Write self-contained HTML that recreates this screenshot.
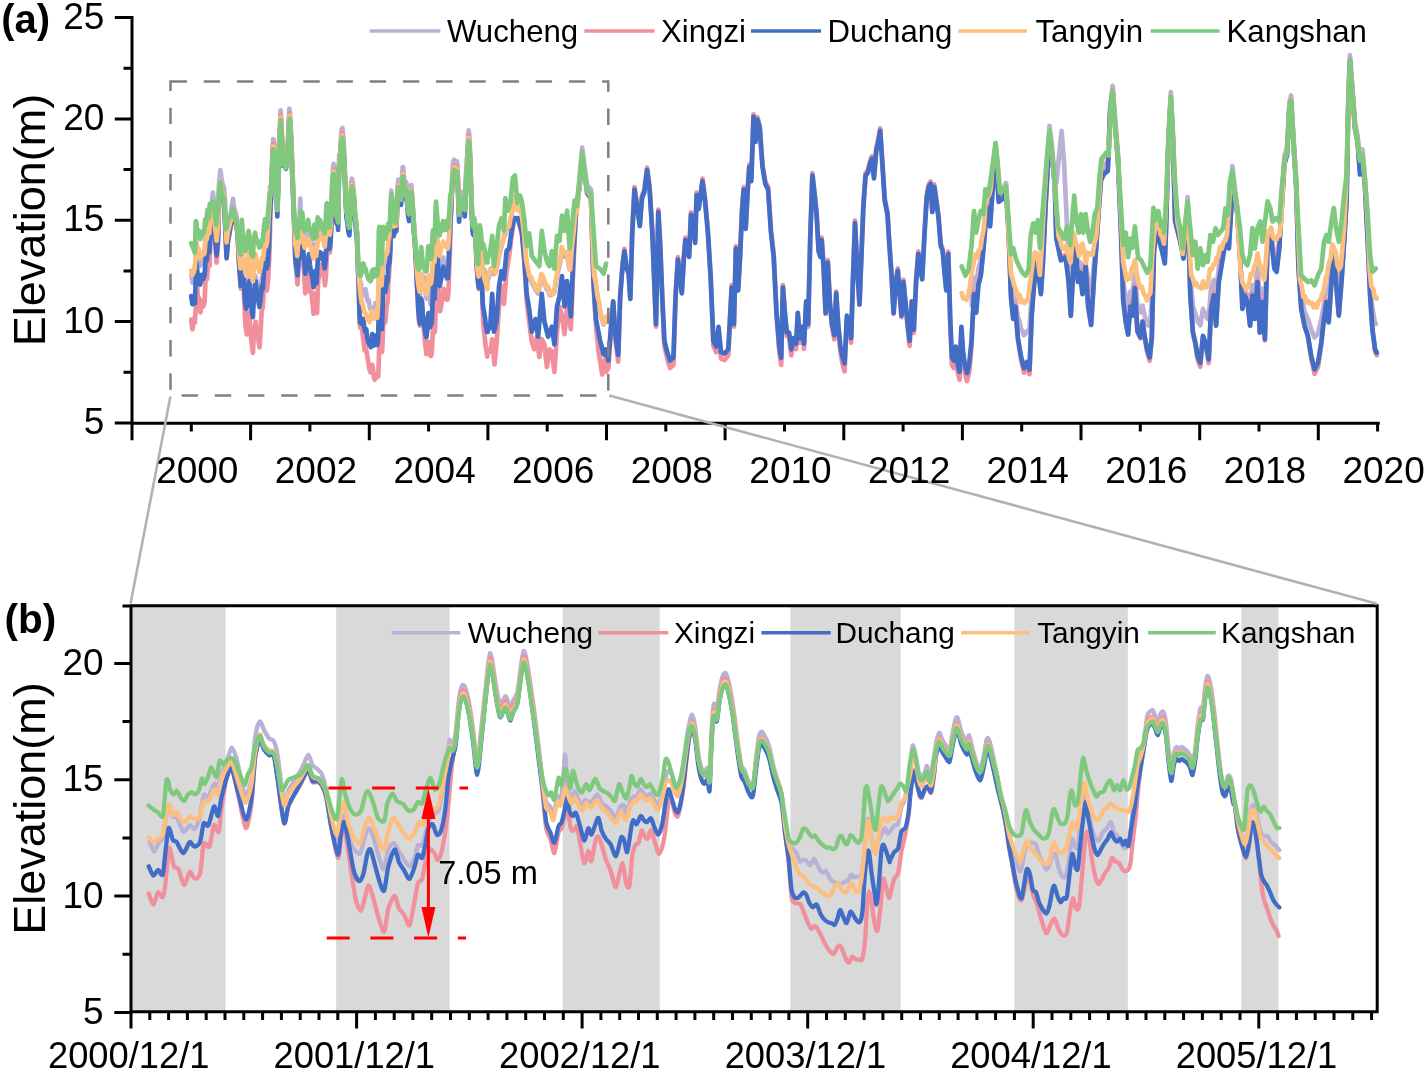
<!DOCTYPE html>
<html><head><meta charset="utf-8"><title>Elevation chart</title>
<style>html,body{margin:0;padding:0;background:#fff}svg{display:block}</style>
</head><body>
<svg width="1425" height="1071" viewBox="0 0 1425 1071">
<rect width="1425" height="1071" fill="#fff"/>
<rect x="131.5" y="606" width="94.1" height="405.8" fill="#d9d9d9"/>
<rect x="336.2" y="606" width="113.4" height="405.8" fill="#d9d9d9"/>
<rect x="562.6" y="606" width="97.2" height="405.8" fill="#d9d9d9"/>
<rect x="790.4" y="606" width="110.2" height="405.8" fill="#d9d9d9"/>
<rect x="1014.4" y="606" width="113.4" height="405.8" fill="#d9d9d9"/>
<rect x="1241.3" y="606" width="37.2" height="405.8" fill="#d9d9d9"/>
<path d="M191.4 274.9 L192.6 283.0 L193.6 276.5 L194.8 271.6 L195.6 257.0 L196.5 243.9 L197.5 252.9 L198.5 252.1 L200.2 265.9 L201.9 260.2 L203.1 263.5 L204.4 255.3 L205.6 234.2 L206.8 235.8 L208.3 224.4 L209.3 226.1 L210.2 216.3 L211.7 203.3 L212.9 192.7 L214.1 201.7 L215.1 216.3 L216.6 234.2 L218.1 219.6 L219.0 183.8 L220.3 170.0 L221.5 178.1 L222.7 184.6 L223.9 187.0 L224.9 198.4 L226.6 239.1 L227.8 229.3 L230.8 213.5 L231.9 206.2 L233.0 198.8 L234.1 208.0 L235.5 211.7 L236.6 216.2 L237.7 230.0 L239.1 259.3 L240.7 277.7 L241.6 259.3 L242.4 252.0 L243.5 268.5 L244.6 279.5 L246.5 285.0 L247.6 272.2 L248.7 263.0 L249.8 268.5 L252.0 294.2 L252.9 297.8 L254.0 281.3 L255.4 275.8 L256.7 283.2 L258.1 290.5 L259.5 296.0 L260.9 288.7 L261.7 277.7 L262.8 277.7 L263.9 264.8 L265.0 253.8 L266.1 250.2 L267.2 246.5 L268.3 226.3 L269.4 204.3 L270.0 186.3 L270.8 189.5 L271.6 179.0 L272.4 151.5 L273.2 139.0 L274.0 139.9 L275.1 153.3 L276.2 176.9 L277.3 206.3 L278.3 174.8 L279.1 149.7 L280.0 124.6 L280.6 110.3 L281.3 119.3 L282.1 137.2 L283.2 155.1 L284.0 151.5 L284.8 147.9 L285.9 157.7 L286.7 151.5 L287.8 144.3 L288.6 124.6 L289.4 108.5 L290.2 115.7 L291.3 139.0 L292.3 164.3 L293.4 193.7 L294.5 224.5 L295.3 239.7 L296.4 244.1 L297.2 251.3 L298.3 235.2 L299.1 237.9 L299.7 221.8 L300.3 198.5 L300.8 221.8 L301.2 231.6 L302.0 237.0 L302.9 230.7 L303.7 237.0 L304.7 243.2 L305.5 237.9 L306.9 240.6 L308.0 236.1 L308.8 233.4 L309.9 240.6 L310.9 243.2 L312.3 247.7 L313.6 254.0 L314.7 244.1 L315.8 243.2 L316.3 251.3 L317.4 238.8 L318.2 235.2 L319.0 235.2 L320.1 228.9 L320.9 232.5 L321.7 234.3 L322.8 232.5 L323.6 237.9 L324.7 242.3 L325.7 231.6 L326.5 220.0 L327.3 212.8 L328.2 214.9 L329.0 223.9 L329.8 229.3 L330.6 218.5 L331.4 202.4 L332.2 182.7 L333.0 168.4 L333.6 163.9 L334.4 174.5 L335.2 197.6 L336.0 210.2 L336.8 214.4 L337.6 210.2 L338.1 220.7 L338.7 176.6 L339.2 154.8 L340.0 158.4 L340.8 140.5 L341.6 129.8 L342.4 128.0 L343.3 136.9 L344.1 151.2 L344.9 170.3 L345.7 191.3 L346.5 208.1 L347.3 212.3 L348.4 222.8 L349.4 227.0 L350.3 203.9 L351.1 182.9 L351.9 178.7 L352.7 182.9 L353.8 191.3 L354.8 208.1 L355.9 220.7 L357.0 232.8 L357.9 259.3 L358.9 277.2 L359.8 280.4 L360.8 283.7 L361.8 291.8 L362.8 290.2 L363.8 291.8 L364.5 295.1 L365.5 289.4 L366.2 293.4 L367.2 300.0 L367.9 301.6 L368.7 300.0 L369.6 306.5 L370.6 309.7 L371.6 310.5 L372.6 311.3 L373.6 309.7 L374.5 308.1 L375.3 303.2 L376.0 305.6 L377.0 304.8 L378.0 303.2 L378.7 283.7 L379.4 257.7 L379.9 256.0 L380.6 272.3 L381.6 283.7 L382.4 273.9 L383.3 267.4 L384.1 262.5 L384.8 267.4 L385.4 265.9 L386.5 260.5 L387.6 258.7 L388.4 244.4 L389.2 239.1 L390.0 226.5 L390.8 210.4 L391.3 190.7 L392.2 199.7 L393.0 214.0 L393.8 217.6 L394.6 214.0 L395.1 208.6 L395.9 219.4 L396.7 205.1 L397.5 188.1 L398.3 179.7 L399.2 186.0 L400.0 190.2 L401.0 194.4 L401.8 179.7 L402.7 167.1 L403.2 167.1 L404.0 177.6 L404.8 183.9 L405.6 188.1 L406.2 181.8 L407.0 192.3 L408.0 204.9 L409.1 211.2 L409.9 200.7 L410.7 186.0 L411.3 185.0 L412.1 194.4 L412.9 207.0 L413.7 219.6 L414.3 229.8 L415.1 240.6 L415.9 253.1 L416.7 267.4 L417.5 279.0 L418.6 293.3 L419.6 300.5 L420.4 288.0 L421.2 277.2 L422.3 275.4 L423.7 277.2 L424.5 286.2 L425.6 293.3 L426.4 298.7 L427.2 295.1 L428.0 286.2 L428.8 286.2 L429.6 296.9 L430.4 304.1 L431.5 305.0 L432.3 291.6 L433.1 271.9 L433.9 279.0 L434.6 279.0 L435.2 261.1 L435.9 239.7 L436.6 230.7 L437.3 245.0 L438.2 261.1 L439.0 270.1 L440.1 273.7 L441.2 266.5 L442.2 262.9 L443.3 257.6 L444.1 266.5 L445.2 270.1 L446.6 279.0 L447.6 279.0 L448.4 266.5 L449.2 239.7 L450.1 218.2 L450.9 202.1 L451.9 187.8 L452.8 164.8 L453.5 161.3 L454.2 159.8 L454.9 164.8 L455.6 170.3 L456.3 163.0 L457.0 161.3 L457.7 170.3 L458.4 193.8 L459.1 211.9 L459.8 197.4 L460.5 192.0 L461.2 193.8 L461.9 192.0 L462.6 193.8 L463.3 195.6 L464.0 199.2 L464.7 206.5 L465.4 193.8 L466.1 172.1 L466.8 158.3 L467.5 156.7 L467.9 141.3 L468.6 130.4 L469.1 133.5 L469.8 145.9 L470.5 164.8 L471.2 186.6 L471.9 208.3 L472.6 222.8 L473.3 226.4 L474.0 217.3 L474.7 219.2 L475.4 233.2 L475.8 240.6 L476.6 255.8 L477.7 269.6 L478.5 275.2 L479.4 262.7 L480.0 246.1 L480.8 243.4 L481.6 253.0 L482.5 265.5 L483.3 269.6 L484.3 269.6 L485.4 275.2 L486.4 277.9 L487.5 282.1 L486.9 282.2 L490.2 273.3 L492.2 269.7 L493.9 274.1 L496.5 270.2 L499.0 255.9 L501.5 246.1 L504.0 236.9 L505.3 234.2 L506.6 230.2 L507.8 228.1 L509.1 227.8 L510.3 221.0 L511.6 215.1 L512.9 208.2 L514.1 198.7 L514.9 201.5 L517.4 209.5 L517.9 210.1 L519.9 208.4 L521.7 214.9 L524.2 237.4 L526.7 265.1 L529.2 277.8 L531.8 282.5 L535.5 289.6 L538.1 293.5 L539.3 287.7 L541.8 276.3 L544.4 283.6 L546.9 289.5 L548.1 290.1 L549.4 295.1 L551.9 294.6 L554.4 292.4 L557.0 275.7 L559.5 265.6 L562.0 249.8 L564.5 256.6 L567.1 255.5 L569.6 269.4 L570.8 265.1 L572.1 248.5 L573.4 235.6 L574.6 222.3 L575.9 206.2 L577.1 202.0 L579.7 175.4 L582.2 147.7 L584.7 167.9 L587.2 185.5 L591.0 189.4 L593.5 264.7 L596.0 287.1 L599.8 310.7 L603.6 324.6 L606.1 318.8" fill="none" stroke="#bbb1d6" stroke-width="4.7" stroke-linejoin="round" stroke-linecap="round"/>
<path d="M971.6 305.5 L974.0 277.7 L976.2 284.3 L978.4 268.5 L980.8 260.7 L983.3 241.2 L985.4 215.7 L987.6 198.9 L990.1 209.0 L993.1 172.8 L995.6 142.8 L997.8 176.7 L998.7 189.7 L999.9 189.9 L1003.0 188.6 L1006.1 183.0 L1008.6 227.5 L1011.0 285.5 L1013.2 300.0 L1015.3 297.5 L1016.3 304.5 L1017.8 316.9 L1019.3 320.8 L1020.9 328.3 L1022.4 331.6 L1024.0 335.2 L1025.5 333.5 L1027.0 331.0 L1028.6 330.9 L1029.5 329.0 L1030.7 308.6 L1031.7 293.3 L1033.2 277.5 L1033.8 272.3 L1035.7 261.1 L1036.3 258.1 L1037.8 265.1 L1038.8 270.6 L1040.0 280.1 L1040.9 277.2 L1042.4 251.6 L1043.1 240.7 L1044.9 205.7 L1045.5 194.2 L1047.1 168.7 L1048.6 143.4 L1049.5 125.9 L1051.7 144.4 L1054.8 178.3 L1056.3 183.3 L1059.4 152.4 L1061.6 130.9 L1064.0 161.7 L1066.5 214.1 L1068.6 269.0 L1070.2 283.8 L1070.8 287.6 L1072.7 261.3 L1073.3 253.4 L1074.2 247.3 L1075.7 243.8 L1076.3 249.8 L1077.9 265.8 L1078.8 266.5 L1080.0 261.9 L1081.0 264.0 L1082.5 269.1 L1083.1 267.6 L1085.6 263.9 L1088.1 279.8 L1090.2 286.8 L1091.1 289.9 L1092.4 280.1 L1094.2 260.1 L1094.8 254.5 L1096.4 239.4 L1097.3 227.9 L1098.5 210.3 L1099.5 196.4 L1101.0 172.8 L1101.6 170.4 L1104.1 165.2 L1106.5 162.9 L1107.8 162.8 L1108.7 150.5 L1110.2 115.3 L1110.9 101.2 L1112.7 85.8 L1114.9 116.6 L1118.0 153.6 L1121.0 224.6 L1123.2 280.7 L1125.7 298.3 L1128.1 306.6 L1130.3 291.7 L1132.4 291.5 L1134.9 274.4 L1137.4 303.9 L1138.0 306.1 L1140.4 312.4 L1141.1 310.0 L1142.6 305.7 L1144.1 313.6 L1144.8 316.2 L1147.2 324.7 L1149.7 325.7 L1150.3 322.6 L1151.8 300.4 L1153.4 258.9 L1154.0 243.2 L1155.9 230.8 L1156.5 227.0 L1158.3 229.8 L1158.9 230.2 L1161.1 241.4 L1162.0 243.8 L1163.4 249.1 L1164.2 250.7 L1164.8 246.6 L1166.1 216.6 L1168.4 135.8 L1170.8 92.1 L1172.8 129.1 L1175.1 202.7 L1177.5 226.0 L1180.2 236.5 L1182.9 249.7 L1183.5 252.6 L1185.2 234.2 L1186.2 222.1 L1187.6 197.0 L1190.3 277.6 L1192.9 305.6 L1195.3 313.3 L1197.6 321.1 L1200.3 325.2 L1203.0 308.8 L1205.4 315.0 L1207.7 318.9 L1208.7 318.6 L1210.4 296.2 L1211.1 289.1 L1213.1 282.0 L1213.8 280.0 L1215.5 289.7 L1216.1 292.8 L1217.8 277.6 L1218.8 268.0 L1220.5 259.5 L1222.2 254.6 L1223.2 249.6 L1225.5 240.7 L1227.9 234.4 L1228.9 228.3 L1229.9 211.4 L1231.3 193.8 L1232.3 166.1 L1234.6 186.3 L1237.3 206.9 L1240.0 258.2 L1242.4 295.4 L1244.7 291.1 L1247.4 294.8 L1250.1 301.6 L1252.4 285.2 L1254.8 292.3 L1257.5 267.9 L1259.8 298.7 L1260.2 297.1 L1262.5 288.7 L1264.9 306.0 L1267.6 237.9 L1270.3 233.1 L1270.9 231.5 L1272.6 243.8 L1274.3 253.7 L1276.0 255.4 L1276.6 255.4 L1279.3 242.0 L1281.7 209.5 L1284.4 156.0 L1287.1 145.9 L1289.4 102.2 L1291.1 95.5 L1293.4 135.8 L1296.1 176.2 L1298.5 254.7 L1301.2 296.5 L1304.5 311.2 L1307.9 318.8 L1311.3 329.6 L1314.6 337.5 L1318.0 333.3 L1321.3 319.5 L1324.0 304.2 L1326.4 289.1 L1328.7 293.1 L1331.4 266.9 L1333.8 251.4 L1336.1 270.1 L1336.5 273.5 L1338.8 292.1 L1341.5 270.3 L1344.2 233.8 L1346.6 186.4 L1348.2 102.2 L1349.9 55.2 L1352.3 85.4 L1355.0 122.4 L1357.6 135.8 L1360.0 163.7 L1362.4 149.3 L1365.0 178.2 L1367.7 232.9 L1370.1 284.9 L1372.4 308.4 L1375.1 323.3 L1375.8 324.0" fill="none" stroke="#bbb1d6" stroke-width="4.7" stroke-linejoin="round" stroke-linecap="round"/>
<path d="M191.2 319.6 L192.4 329.3 L193.6 318.8 L194.8 322.8 L195.6 310.6 L196.3 283.0 L196.8 281.4 L197.8 296.0 L199.0 298.4 L200.4 312.3 L201.9 300.9 L203.1 306.6 L204.6 302.5 L205.6 276.5 L207.1 278.9 L208.3 260.2 L209.5 265.9 L210.2 245.6 L211.7 217.1 L212.9 210.6 L214.6 234.2 L216.6 262.7 L218.1 242.3 L219.0 201.7 L220.3 183.8 L221.2 191.9 L222.7 197.6 L223.9 198.4 L224.9 219.6 L226.6 258.6 L227.8 243.1 L230.8 225.4 L231.9 218.1 L233.0 212.6 L234.1 222.7 L235.5 222.7 L236.6 226.3 L237.7 236.4 L239.1 263.9 L240.7 288.7 L241.6 270.3 L242.4 263.0 L243.2 277.7 L244.0 296.0 L245.4 325.4 L246.8 334.5 L247.9 321.7 L248.7 312.5 L249.8 321.7 L251.5 341.9 L252.9 352.9 L254.0 332.7 L255.6 321.7 L256.7 332.7 L258.1 338.2 L259.5 347.4 L260.9 325.4 L261.7 310.7 L262.8 307.0 L263.9 288.7 L265.0 281.3 L266.1 285.0 L266.9 290.5 L268.0 281.3 L269.2 259.3 L270.0 231.8 L270.6 208.0 L271.6 184.0 L272.4 156.3 L273.2 143.7 L274.0 144.6 L275.1 158.3 L276.2 182.0 L277.3 209.8 L278.3 180.1 L279.1 154.5 L280.0 129.4 L280.6 115.1 L281.3 124.1 L282.1 142.0 L283.2 160.2 L284.0 156.3 L284.8 152.7 L285.9 163.2 L286.7 156.3 L287.8 149.1 L288.6 129.4 L289.4 113.3 L290.2 120.5 L291.3 143.7 L292.3 170.1 L293.4 197.9 L294.5 236.1 L295.3 262.9 L296.4 271.9 L297.5 284.4 L298.5 266.5 L299.4 262.9 L300.2 252.2 L300.7 243.2 L301.8 262.9 L302.6 264.7 L303.4 261.1 L304.2 275.4 L305.3 293.3 L306.4 282.6 L307.2 291.6 L308.2 273.7 L309.0 270.1 L309.9 277.2 L310.9 289.8 L312.3 300.5 L313.6 313.9 L315.2 293.3 L316.3 311.2 L317.1 313.0 L317.9 286.2 L318.7 277.2 L319.5 275.4 L320.4 264.7 L321.2 270.1 L322.0 271.9 L322.8 264.7 L323.8 275.4 L324.9 285.3 L326.0 275.4 L326.8 257.6 L327.3 239.7 L328.2 238.2 L329.0 248.9 L329.8 252.5 L330.6 241.8 L331.4 223.9 L332.2 198.8 L333.0 179.2 L333.6 169.9 L334.4 179.8 L335.2 201.6 L336.0 213.2 L336.8 216.7 L337.6 213.2 L338.1 222.1 L338.7 181.8 L339.2 160.0 L340.0 163.9 L340.8 145.3 L341.6 134.6 L342.4 132.8 L343.3 141.7 L344.1 156.0 L344.9 175.8 L345.7 195.6 L346.5 211.4 L347.3 214.9 L348.4 223.9 L349.4 227.5 L350.3 207.5 L351.1 187.7 L351.9 183.8 L352.7 187.7 L353.8 195.6 L354.8 211.4 L355.9 222.1 L357.0 232.8 L357.9 266.6 L358.9 291.8 L359.6 322.7 L360.3 327.6 L361.3 328.4 L362.1 329.2 L362.8 335.7 L363.8 343.9 L364.7 350.4 L365.7 347.9 L366.7 352.0 L367.7 358.5 L368.7 365.0 L369.6 369.9 L370.6 372.3 L371.6 366.6 L372.3 365.0 L373.1 369.9 L374.0 378.0 L374.8 379.7 L375.5 374.8 L376.5 377.2 L377.5 377.2 L378.2 376.4 L378.9 358.5 L379.4 329.2 L379.9 317.8 L380.6 329.2 L381.4 345.5 L382.1 352.0 L382.9 334.1 L383.6 308.1 L384.1 309.7 L385.1 322.7 L385.4 321.4 L386.5 307.1 L387.6 301.7 L388.4 283.8 L389.5 267.7 L390.3 251.6 L390.8 232.8 L391.6 212.2 L392.4 223.8 L393.2 234.6 L393.8 236.4 L394.6 229.2 L395.4 227.4 L396.2 231.9 L397.0 214.9 L397.5 192.6 L398.3 184.7 L399.2 190.6 L400.0 194.6 L401.0 198.6 L401.8 184.7 L402.7 172.8 L403.2 172.8 L404.0 182.7 L404.8 188.7 L405.6 192.6 L406.2 186.7 L407.0 196.6 L408.0 208.5 L409.1 214.0 L409.9 204.5 L410.7 190.6 L411.3 189.6 L412.1 198.6 L412.9 210.4 L413.7 221.2 L414.3 237.0 L415.1 247.7 L415.9 262.0 L416.7 280.8 L417.5 295.1 L418.3 311.2 L419.1 322.0 L419.9 325.6 L420.7 314.8 L421.4 304.1 L422.1 307.7 L422.9 320.2 L423.9 329.1 L425.0 341.7 L426.4 354.2 L427.4 347.0 L428.5 341.7 L429.6 350.6 L430.7 356.0 L431.7 354.2 L432.6 336.3 L433.4 323.8 L434.2 332.7 L435.0 330.9 L435.8 302.3 L436.6 271.9 L437.4 266.5 L438.2 286.2 L439.0 302.3 L440.0 311.2 L440.9 307.7 L441.7 302.3 L442.8 296.9 L443.6 288.9 L444.4 291.6 L445.5 293.3 L446.6 299.6 L447.6 299.6 L448.4 293.3 L449.0 275.4 L449.8 254.0 L450.4 230.7 L451.1 211.0 L451.9 194.0 L452.8 170.6 L453.5 167.2 L454.2 165.5 L454.9 170.6 L455.6 175.8 L456.3 168.9 L457.0 167.2 L457.7 175.8 L458.4 198.0 L459.1 214.6 L459.8 201.4 L460.5 196.3 L461.2 198.0 L461.9 196.3 L462.6 198.0 L463.3 199.7 L464.0 203.1 L464.7 210.0 L465.4 198.0 L466.1 177.5 L466.8 163.8 L467.5 162.1 L467.9 146.0 L468.6 135.2 L469.1 138.3 L469.8 150.7 L470.5 170.6 L471.2 191.2 L471.9 211.5 L472.6 223.9 L473.3 227.0 L474.0 219.3 L474.7 220.8 L475.4 233.2 L475.8 244.1 L476.6 264.8 L477.7 279.3 L478.7 289.0 L479.6 276.5 L480.2 260.0 L480.8 261.3 L481.4 272.4 L482.1 289.0 L482.7 309.7 L483.3 323.6 L484.1 331.9 L485.0 340.1 L485.8 347.1 L486.6 351.2 L487.3 356.7 L486.9 351.8 L490.2 351.8 L492.2 339.2 L494.5 364.4 L496.5 344.3 L499.0 306.5 L501.5 286.3 L504.0 303.9 L506.6 271.2 L509.1 256.0 L511.6 235.9 L514.1 219.5 L517.9 219.5 L521.7 233.4 L524.2 261.1 L526.7 301.4 L529.2 321.6 L531.8 341.7 L534.3 349.3 L536.8 336.7 L539.3 356.9 L541.8 339.2 L544.4 344.3 L546.9 367.0 L549.4 349.3 L551.9 351.8 L554.4 372.0 L557.0 331.7 L559.5 306.5 L562.0 316.5 L564.5 334.2 L567.1 306.5 L570.8 329.1 L573.4 266.1 L575.9 215.7 L579.7 184.2 L582.2 151.4 L584.7 174.1 L587.2 193.0 L591.0 199.3 L593.5 286.3 L596.0 326.6 L598.6 351.8 L602.3 374.5 L605.6 355.4 L606.1 372.0 L608.4 368.1 L611.2 326.7 L613.2 301.2 L615.4 339.4 L618.2 361.7 L620.2 294.8 L622.4 265.6 L624.4 248.8 L626.6 265.6 L628.6 271.2 L630.3 298.0 L632.2 232.0 L634.5 187.1 L637.0 203.9 L639.8 223.6 L642.0 195.5 L644.3 189.9 L647.1 167.5 L649.6 187.1 L652.4 232.0 L656.0 326.7 L658.3 209.5 L660.2 243.2 L662.2 294.8 L664.4 345.8 L667.2 358.5 L670.0 368.1 L673.4 364.9 L675.6 294.8 L677.9 257.2 L679.8 271.2 L681.8 291.6 L684.0 254.4 L685.4 237.6 L687.4 246.0 L689.1 254.4 L691.0 212.3 L693.0 217.9 L695.2 240.4 L696.6 192.7 L698.6 206.7 L700.3 195.5 L702.5 178.7 L705.0 198.3 L707.8 229.2 L710.6 274.0 L713.4 345.8 L716.2 352.2 L718.5 329.9 L721.0 358.5 L724.6 360.1 L728.3 355.4 L730.3 313.9 L731.7 285.2 L733.9 326.7 L735.9 246.0 L738.1 288.4 L740.1 254.4 L742.0 209.5 L743.7 187.1 L745.7 226.4 L747.6 189.9 L749.3 164.7 L751.3 178.7 L753.5 114.3 L755.5 139.5 L757.4 117.1 L759.7 125.5 L762.5 164.7 L765.3 181.5 L768.1 187.1 L770.9 229.2 L773.7 254.4 L776.5 313.9 L779.3 352.2 L781.2 364.9 L782.9 285.2 L784.9 313.9 L786.8 336.2 L789.1 336.2 L791.3 355.4 L793.3 342.6 L796.1 349.0 L797.8 313.9 L799.8 342.6 L801.8 329.9 L804.0 349.0 L806.2 301.2 L808.2 326.7 L810.2 237.6 L812.4 173.1 L814.6 192.7 L816.6 212.3 L818.6 248.8 L820.3 254.4 L821.7 237.6 L823.6 265.6 L825.6 313.9 L827.8 260.0 L829.8 301.2 L832.0 326.7 L834.3 339.4 L836.2 291.6 L838.2 326.7 L840.4 352.2 L842.7 364.9 L844.6 371.3 L846.9 317.1 L848.8 323.5 L851.1 342.6 L853.0 276.8 L855.0 220.7 L857.2 265.6 L859.5 304.4 L861.4 254.4 L863.4 203.9 L865.6 173.1 L867.9 170.3 L869.8 161.9 L871.8 156.3 L874.0 175.9 L876.3 147.9 L878.2 139.5 L880.2 128.3 L882.4 161.9 L884.7 198.3 L887.5 212.3 L889.4 243.2 L891.4 271.2 L893.6 313.9 L895.9 279.6 L897.8 268.4 L899.8 294.8 L901.5 317.1 L903.4 279.6 L905.4 301.2 L907.6 326.7 L909.6 345.8 L911.8 301.2 L913.8 333.0 L916.1 279.6 L918.3 251.6 L920.3 265.6 L922.2 276.8 L924.5 232.0 L926.7 195.5 L928.7 184.3 L930.6 181.5 L932.3 209.5 L934.3 184.3 L936.2 198.3 L938.5 215.1 L940.7 243.2 L942.7 248.8 L944.6 271.2 L946.3 288.4 L948.3 251.6 L950.2 320.3 L951.9 364.9 L953.9 368.1 L955.8 352.2 L957.5 371.3 L959.5 379.7 L961.4 329.9 L963.1 358.5 L965.1 374.1 L967.0 381.1 L969.3 371.3 L971.5 345.8 L974.0 291.7 L976.2 310.6 L978.4 282.5 L980.8 273.2 L983.3 248.6 L985.4 223.9 L987.6 205.4 L990.1 223.9 L993.1 180.8 L995.6 149.9 L998.7 199.3 L1003.0 196.2 L1006.1 190.0 L1008.6 230.1 L1011.0 294.8 L1013.2 317.5 L1015.3 304.0 L1017.8 338.3 L1020.9 359.1 L1024.0 372.7 L1027.0 366.0 L1029.5 374.2 L1031.7 314.1 L1033.8 285.5 L1036.3 260.9 L1038.8 273.2 L1040.9 291.7 L1043.1 257.8 L1045.5 205.4 L1048.6 149.9 L1049.5 131.5 L1051.7 149.9 L1054.8 183.8 L1056.3 236.2 L1060.9 257.8 L1065.6 254.7 L1068.6 279.4 L1070.8 314.1 L1073.3 267.1 L1075.7 242.4 L1077.9 279.4 L1080.0 270.1 L1082.5 291.7 L1085.6 264.0 L1088.1 304.0 L1091.1 324.4 L1094.2 273.2 L1096.4 242.4 L1098.5 211.6 L1101.0 177.7 L1104.1 171.5 L1107.8 168.4 L1110.2 106.8 L1112.7 89.9 L1114.9 120.7 L1118.0 159.2 L1121.0 230.1 L1123.2 297.9 L1125.7 321.0 L1128.1 334.8 L1130.3 304.0 L1132.4 314.1 L1134.9 285.5 L1137.4 331.4 L1140.4 338.3 L1142.6 321.0 L1144.8 338.3 L1147.2 352.1 L1149.7 360.8 L1151.8 338.3 L1154.0 248.6 L1156.5 230.1 L1158.9 236.2 L1162.0 248.6 L1164.8 260.9 L1166.1 225.7 L1168.4 141.7 L1170.8 98.0 L1172.8 135.0 L1175.1 219.0 L1180.2 239.2 L1183.5 256.0 L1186.2 225.7 L1187.6 202.2 L1190.3 293.0 L1192.9 332.8 L1195.3 344.1 L1197.6 359.2 L1200.3 366.8 L1203.0 336.5 L1205.4 344.1 L1208.7 363.0 L1211.1 306.4 L1213.8 293.0 L1216.1 325.2 L1218.8 279.5 L1222.2 259.3 L1225.5 239.2 L1228.9 245.9 L1231.3 205.6 L1232.3 172.0 L1234.6 192.1 L1237.3 212.3 L1240.0 252.6 L1242.4 306.4 L1244.7 293.0 L1247.4 299.7 L1250.1 325.2 L1252.4 293.0 L1254.8 317.7 L1257.5 279.5 L1259.8 332.8 L1262.5 299.7 L1264.9 340.3 L1267.6 239.2 L1270.9 232.5 L1274.3 266.1 L1276.6 269.4 L1279.3 245.9 L1281.7 205.6 L1284.4 161.9 L1287.1 151.8 L1289.4 106.4 L1291.1 99.7 L1293.4 140.0 L1296.1 182.0 L1298.5 266.1 L1301.2 306.4 L1304.5 325.2 L1307.9 336.5 L1311.3 359.2 L1314.6 373.9 L1318.0 366.8 L1321.3 344.1 L1324.0 317.7 L1326.4 299.7 L1328.7 321.4 L1331.4 279.5 L1333.8 252.6 L1336.5 286.2 L1338.8 313.9 L1341.5 279.5 L1344.2 239.2 L1346.6 198.8 L1348.2 108.1 L1349.9 59.3 L1352.3 89.6 L1355.0 126.6 L1357.6 140.0 L1360.0 172.0 L1362.4 155.1 L1365.0 185.4 L1367.7 239.2 L1370.1 293.0 L1372.4 329.0 L1375.1 351.6 L1376.8 355.4" fill="none" stroke="#f18f9c" stroke-width="4.7" stroke-linejoin="round" stroke-linecap="round"/>
<path d="M191.2 296.0 L192.4 304.1 L193.6 299.2 L194.8 303.3 L195.6 283.0 L196.4 262.7 L197.5 273.2 L198.5 274.9 L200.2 284.6 L201.9 274.9 L203.1 278.9 L204.6 274.9 L205.6 258.6 L206.8 260.2 L208.3 243.9 L209.4 252.1 L210.2 235.8 L211.7 217.9 L212.9 210.6 L214.6 232.6 L216.6 255.3 L218.1 237.4 L219.0 201.7 L220.3 185.4 L221.2 193.5 L222.7 199.2 L223.9 200.0 L224.9 219.6 L226.6 257.8 L227.8 242.3 L230.8 224.5 L231.9 217.2 L233.0 211.7 L234.1 221.7 L235.5 221.7 L236.6 225.4 L237.7 235.5 L239.1 263.0 L240.7 285.9 L241.6 266.7 L242.4 257.5 L243.5 274.0 L244.9 299.7 L246.3 308.8 L247.4 303.3 L248.5 285.0 L249.3 281.3 L250.4 294.2 L251.8 310.7 L252.9 317.1 L254.0 296.0 L255.6 281.3 L256.7 292.3 L258.1 299.7 L259.5 307.0 L260.9 296.0 L261.7 285.9 L262.8 288.7 L263.6 277.7 L264.5 263.0 L265.6 259.3 L266.7 268.5 L267.8 264.8 L268.9 246.5 L269.7 219.0 L270.4 206.2 L271.6 190.0 L272.4 161.8 L273.2 149.0 L274.0 149.9 L275.1 163.8 L276.2 188.0 L277.3 216.3 L278.3 186.0 L279.1 159.7 L280.0 134.7 L280.6 120.3 L281.3 129.3 L282.1 147.2 L283.2 165.8 L284.0 161.8 L284.8 157.9 L285.9 168.8 L286.7 161.8 L287.8 154.3 L288.6 134.7 L289.4 118.6 L290.2 125.7 L291.3 149.0 L292.3 175.9 L293.4 204.2 L294.5 232.5 L295.3 257.6 L296.4 266.5 L297.5 275.4 L298.5 261.1 L299.4 257.6 L300.2 246.8 L300.7 236.1 L301.5 248.6 L302.3 252.2 L303.1 249.5 L304.2 261.1 L305.3 273.7 L306.4 262.9 L307.2 268.3 L308.2 259.3 L309.0 254.0 L309.9 264.7 L310.9 271.9 L312.3 277.2 L313.6 287.1 L315.0 271.0 L315.8 273.7 L316.6 283.5 L317.7 261.1 L318.2 255.8 L319.0 259.3 L320.1 252.2 L320.9 255.8 L321.7 257.6 L322.8 254.0 L323.6 261.1 L324.7 268.3 L325.7 259.3 L326.5 241.5 L327.3 228.9 L328.2 236.4 L329.0 245.4 L329.8 248.9 L330.6 240.0 L331.4 222.1 L332.2 197.1 L333.0 179.2 L333.6 175.6 L334.4 185.7 L335.2 208.0 L336.0 220.1 L336.8 224.1 L337.6 220.1 L338.1 229.9 L338.7 187.8 L339.2 165.5 L340.0 169.6 L340.8 150.5 L341.6 139.8 L342.4 138.0 L343.3 146.9 L344.1 161.5 L344.9 181.7 L345.7 201.9 L346.5 218.1 L347.3 222.1 L348.4 231.7 L349.4 235.3 L350.3 214.0 L351.1 193.8 L351.9 189.8 L352.7 193.8 L353.8 201.9 L354.8 218.1 L355.9 229.9 L357.0 240.7 L357.9 265.8 L358.9 290.2 L359.6 316.2 L360.3 322.7 L361.3 323.5 L362.1 321.1 L362.8 318.7 L363.5 321.1 L364.3 327.6 L365.2 331.7 L366.2 329.2 L367.2 337.4 L368.2 342.2 L369.1 344.7 L370.1 345.5 L370.9 347.1 L371.6 342.2 L372.3 334.1 L373.1 339.0 L374.0 345.5 L375.0 335.7 L375.8 338.2 L376.5 342.2 L377.5 344.7 L378.2 335.7 L378.7 309.7 L379.4 285.3 L379.9 283.7 L380.6 303.2 L381.4 319.5 L381.9 329.2 L382.4 317.8 L383.1 285.3 L383.6 277.2 L384.3 282.1 L385.3 291.8 L385.4 290.9 L386.5 283.8 L387.6 280.2 L388.4 265.9 L389.5 262.3 L390.3 249.8 L390.8 231.9 L391.6 214.0 L392.4 222.9 L393.2 233.7 L393.8 235.5 L394.6 228.3 L395.4 226.5 L396.2 231.0 L397.0 214.0 L397.5 198.8 L398.3 190.7 L399.2 196.8 L400.0 200.8 L401.0 204.9 L401.8 190.7 L402.7 178.6 L403.2 178.6 L404.0 188.7 L404.8 194.8 L405.6 198.8 L406.2 192.7 L407.0 202.8 L408.0 215.0 L409.1 221.0 L409.9 210.9 L410.7 196.8 L411.3 195.8 L412.1 204.9 L412.9 217.0 L413.7 229.0 L414.3 236.1 L415.1 246.8 L415.9 261.1 L416.7 279.0 L417.5 293.3 L418.3 307.7 L419.1 318.4 L419.9 323.8 L420.6 311.2 L421.2 298.7 L422.1 302.3 L422.9 316.6 L423.7 318.4 L424.5 327.3 L425.3 332.7 L426.4 337.2 L427.2 330.9 L428.0 316.6 L428.5 313.0 L429.3 322.0 L430.1 327.3 L430.9 323.8 L431.7 322.9 L432.6 300.5 L433.2 285.3 L433.9 295.1 L434.6 298.7 L435.2 279.0 L436.1 254.0 L436.8 239.7 L437.4 254.0 L438.2 268.3 L439.0 280.8 L439.8 286.2 L440.9 279.9 L441.7 275.4 L442.5 271.9 L443.3 266.5 L444.1 271.9 L444.9 274.6 L445.7 271.9 L446.6 277.2 L447.2 273.7 L447.9 278.1 L448.7 261.1 L449.5 245.0 L450.3 225.3 L451.1 209.2 L451.9 193.1 L452.8 176.4 L453.5 172.9 L454.2 171.1 L454.9 176.4 L455.6 181.6 L456.3 174.6 L457.0 172.9 L457.7 181.6 L458.4 204.3 L459.1 221.7 L459.8 207.8 L460.5 202.5 L461.2 204.3 L461.9 202.5 L462.6 204.3 L463.3 206.0 L464.0 209.5 L464.7 216.5 L465.4 204.3 L466.1 183.4 L466.8 169.4 L467.5 167.7 L467.9 151.3 L468.6 140.5 L469.1 143.5 L469.8 155.9 L470.5 176.4 L471.2 197.3 L471.9 218.3 L472.6 231.7 L473.3 234.8 L474.0 227.0 L474.7 228.7 L475.4 241.0 L475.8 243.4 L476.6 264.1 L477.7 277.9 L478.7 287.6 L479.6 275.2 L480.2 258.6 L480.8 260.0 L481.4 271.0 L482.1 287.6 L482.7 302.8 L483.3 308.3 L484.1 312.5 L485.0 318.0 L485.8 324.9 L486.6 329.1 L487.5 331.9 L486.9 331.7 L490.2 326.6 L492.2 293.9 L493.9 331.7 L496.5 321.6 L499.0 286.3 L501.5 271.2 L504.0 278.7 L506.6 251.0 L509.1 248.5 L511.6 230.8 L514.1 218.2 L517.9 218.2 L521.7 230.8 L524.2 256.0 L526.7 293.9 L529.2 309.0 L531.8 331.7 L535.5 319.1 L538.1 336.7 L541.8 293.9 L544.4 321.6 L548.1 336.7 L551.9 326.6 L554.4 344.3 L557.0 306.5 L559.5 296.4 L562.0 276.2 L564.5 306.5 L567.1 281.2 L570.8 316.5 L573.4 256.0 L575.9 213.2 L579.7 184.2 L582.2 155.2 L584.7 175.4 L587.2 193.0 L591.0 198.1 L593.5 281.2 L596.0 319.1 L599.8 339.2 L603.6 354.4 L605.6 349.3 L606.1 349.3 L608.4 360.5 L611.2 324.1 L613.2 301.7 L615.4 335.3 L618.2 354.9 L620.2 296.1 L622.4 268.1 L624.4 251.3 L626.6 268.1 L628.6 273.7 L630.3 298.9 L632.2 234.5 L634.5 189.6 L637.0 206.4 L639.8 226.1 L642.0 198.0 L644.3 192.4 L647.1 170.0 L649.6 189.6 L652.4 234.5 L656.0 324.1 L658.3 212.0 L660.2 245.7 L662.2 296.1 L664.4 340.9 L667.2 352.1 L670.0 360.5 L673.4 357.7 L675.6 296.1 L677.9 259.7 L679.8 273.7 L681.8 293.3 L684.0 256.9 L685.4 240.1 L687.4 248.5 L689.1 256.9 L691.0 214.8 L693.0 220.4 L695.2 242.9 L696.6 195.2 L698.6 209.2 L700.3 198.0 L702.5 181.2 L705.0 200.8 L707.8 231.7 L710.6 276.5 L713.4 340.9 L716.2 346.5 L718.5 326.9 L721.0 352.1 L724.6 353.5 L728.3 349.3 L730.3 312.9 L731.7 287.7 L733.9 324.1 L735.9 248.5 L738.1 290.5 L740.1 256.9 L742.0 212.0 L743.7 189.6 L745.7 228.9 L747.6 192.4 L749.3 167.2 L751.3 181.2 L753.5 116.8 L755.5 142.0 L757.4 119.6 L759.7 128.0 L762.5 167.2 L765.3 184.0 L768.1 189.6 L770.9 231.7 L773.7 256.9 L776.5 312.9 L779.3 346.5 L781.2 357.7 L782.9 287.7 L784.9 312.9 L786.8 332.5 L789.1 332.5 L791.3 349.3 L793.3 338.1 L796.1 343.7 L797.8 312.9 L799.8 338.1 L801.8 326.9 L804.0 343.7 L806.2 301.7 L808.2 324.1 L810.2 240.1 L812.4 175.6 L814.6 195.2 L816.6 214.8 L818.6 251.3 L820.3 256.9 L821.7 240.1 L823.6 268.1 L825.6 312.9 L827.8 262.5 L829.8 301.7 L832.0 324.1 L834.3 335.3 L836.2 293.3 L838.2 324.1 L840.4 346.5 L842.7 357.7 L844.6 363.3 L846.9 315.7 L848.8 321.3 L851.1 338.1 L853.0 279.3 L855.0 223.2 L857.2 268.1 L859.5 304.5 L861.4 256.9 L863.4 206.4 L865.6 175.6 L867.9 172.8 L869.8 164.4 L871.8 158.8 L874.0 178.4 L876.3 150.4 L878.2 142.0 L880.2 130.8 L882.4 164.4 L884.7 200.8 L887.5 214.8 L889.4 245.7 L891.4 273.7 L893.6 312.9 L895.9 282.1 L897.8 270.9 L899.8 296.1 L901.5 315.7 L903.4 282.1 L905.4 301.7 L907.6 324.1 L909.6 340.9 L911.8 301.7 L913.8 329.7 L916.1 282.1 L918.3 254.1 L920.3 268.1 L922.2 279.3 L924.5 234.5 L926.7 198.0 L928.7 186.8 L930.6 184.0 L932.3 212.0 L934.3 186.8 L936.2 200.8 L938.5 217.6 L940.7 245.7 L942.7 251.3 L944.6 273.7 L946.3 290.5 L948.3 254.1 L950.2 318.5 L951.9 357.7 L953.9 360.5 L955.8 346.5 L957.5 363.3 L959.5 371.7 L961.4 326.9 L963.1 352.1 L965.1 366.1 L967.0 373.1 L969.3 363.3 L971.5 340.9 L974.0 294.2 L976.2 312.7 L978.4 285.0 L980.8 275.7 L983.3 251.1 L985.4 226.4 L987.6 207.9 L990.1 226.4 L993.1 183.3 L995.6 152.4 L998.7 201.8 L1003.0 198.7 L1006.1 192.5 L1008.6 232.6 L1011.0 297.3 L1013.2 318.9 L1015.3 306.5 L1017.8 337.3 L1020.9 355.8 L1024.0 368.2 L1027.0 362.0 L1029.5 369.7 L1031.7 315.8 L1033.8 288.0 L1036.3 263.4 L1038.8 275.7 L1040.9 294.2 L1043.1 260.3 L1045.5 207.9 L1048.6 152.4 L1049.5 134.0 L1051.7 152.4 L1054.8 186.3 L1056.3 238.7 L1060.9 260.3 L1065.6 257.2 L1068.6 281.9 L1070.8 315.8 L1073.3 269.6 L1075.7 244.9 L1077.9 281.9 L1080.0 272.6 L1082.5 294.2 L1085.6 266.5 L1088.1 306.5 L1091.1 325.0 L1094.2 275.7 L1096.4 244.9 L1098.5 214.1 L1101.0 180.2 L1104.1 174.0 L1107.8 170.9 L1110.2 109.3 L1112.7 92.4 L1114.9 123.2 L1118.0 161.7 L1121.0 232.6 L1123.2 300.4 L1125.7 321.9 L1128.1 334.3 L1130.3 306.5 L1132.4 315.8 L1134.9 288.0 L1137.4 331.2 L1140.4 337.3 L1142.6 321.9 L1144.8 337.3 L1147.2 349.7 L1149.7 357.4 L1151.8 337.3 L1154.0 251.1 L1156.5 232.6 L1158.9 238.7 L1162.0 251.1 L1164.8 263.4 L1166.1 228.2 L1168.4 144.2 L1170.8 100.5 L1172.8 137.5 L1175.1 221.5 L1180.2 241.7 L1183.5 258.5 L1186.2 228.2 L1187.6 204.7 L1190.3 295.5 L1192.9 332.4 L1195.3 342.5 L1197.6 356.0 L1200.3 362.7 L1203.0 335.8 L1205.4 342.5 L1208.7 359.3 L1211.1 308.9 L1213.8 295.5 L1216.1 325.7 L1218.8 282.0 L1222.2 261.8 L1225.5 241.7 L1228.9 248.4 L1231.3 208.1 L1232.3 174.5 L1234.6 194.6 L1237.3 214.8 L1240.0 255.1 L1242.4 308.9 L1244.7 295.5 L1247.4 302.2 L1250.1 325.7 L1252.4 295.5 L1254.8 319.0 L1257.5 282.0 L1259.8 332.4 L1262.5 302.2 L1264.9 339.2 L1267.6 241.7 L1270.9 235.0 L1274.3 268.6 L1276.6 271.9 L1279.3 248.4 L1281.7 208.1 L1284.4 164.4 L1287.1 154.3 L1289.4 108.9 L1291.1 102.2 L1293.4 142.5 L1296.1 184.5 L1298.5 268.6 L1301.2 308.9 L1304.5 325.7 L1307.9 335.8 L1311.3 356.0 L1314.6 369.4 L1318.0 362.7 L1321.3 342.5 L1324.0 319.0 L1326.4 302.2 L1328.7 322.4 L1331.4 282.0 L1333.8 255.1 L1336.5 288.7 L1338.8 315.6 L1341.5 282.0 L1344.2 241.7 L1346.6 201.3 L1348.2 110.6 L1349.9 61.8 L1352.3 92.1 L1355.0 129.1 L1357.6 142.5 L1360.0 174.5 L1362.4 157.6 L1365.0 187.9 L1367.7 241.7 L1370.1 295.5 L1372.4 329.1 L1375.1 349.2 L1376.8 352.6" fill="none" stroke="#426dc6" stroke-width="4.7" stroke-linejoin="round" stroke-linecap="round"/>
<path d="M191.2 270.8 L192.4 274.9 L193.6 272.4 L194.8 268.3 L195.6 255.3 L196.5 242.3 L197.5 251.3 L198.5 248.8 L200.2 257.8 L201.9 252.9 L203.1 254.5 L204.4 253.7 L205.6 239.9 L206.8 239.1 L208.3 229.3 L209.3 233.4 L210.2 219.6 L211.7 209.8 L212.9 204.9 L214.6 222.8 L216.6 240.7 L218.1 224.4 L219.0 196.8 L220.3 181.3 L221.2 189.5 L222.7 195.2 L223.9 196.0 L224.9 209.8 L226.6 242.3 L227.8 232.6 L230.8 219.9 L231.9 213.5 L233.0 208.9 L234.1 218.1 L235.5 219.9 L236.6 223.6 L237.7 231.8 L239.1 253.8 L240.5 268.5 L241.6 246.5 L242.4 241.0 L243.5 259.3 L245.2 272.2 L246.5 275.8 L247.6 263.0 L248.7 253.8 L249.8 259.3 L251.5 274.0 L252.9 281.3 L254.0 264.8 L255.4 253.8 L256.5 259.3 L257.8 266.7 L259.5 272.2 L260.9 266.7 L262.0 257.5 L263.1 259.3 L263.9 250.2 L265.0 244.7 L266.1 246.5 L267.2 241.0 L268.3 222.7 L269.4 204.3 L270.0 191.7 L270.8 194.6 L271.6 185.0 L272.4 158.9 L273.2 146.4 L274.0 147.3 L275.1 160.7 L276.2 183.1 L277.3 209.8 L278.3 181.2 L279.1 157.1 L280.0 132.0 L280.6 117.7 L281.3 126.7 L282.1 144.6 L283.2 162.5 L284.0 158.9 L284.8 155.3 L285.9 165.2 L286.7 158.9 L287.8 151.7 L288.6 132.0 L289.4 115.9 L290.2 123.1 L291.3 146.4 L292.3 171.7 L293.4 198.4 L294.5 227.1 L295.3 245.0 L296.4 248.6 L297.2 255.8 L298.3 239.7 L299.1 243.2 L299.9 233.4 L300.4 227.1 L301.2 236.1 L302.0 241.5 L302.9 236.1 L303.7 241.5 L304.7 247.7 L305.8 240.6 L306.9 245.0 L308.0 240.6 L308.8 238.8 L309.9 245.0 L310.9 247.7 L312.3 254.0 L313.6 258.5 L314.7 248.6 L315.5 252.2 L316.3 255.8 L317.4 243.2 L318.2 239.7 L319.0 239.7 L320.1 233.4 L320.9 237.0 L321.7 238.8 L322.8 237.0 L323.6 242.3 L324.7 246.8 L325.7 236.1 L326.5 224.5 L327.3 220.9 L328.2 223.9 L329.0 231.1 L329.8 234.6 L330.6 225.7 L331.4 209.6 L332.2 189.9 L333.0 176.5 L333.6 171.4 L334.4 181.0 L335.2 201.9 L336.0 213.2 L336.8 216.7 L337.6 213.2 L338.1 222.1 L338.7 182.9 L339.2 162.2 L340.0 165.8 L340.8 147.9 L341.6 137.2 L342.4 135.4 L343.3 144.3 L344.1 158.7 L344.9 177.2 L345.7 196.2 L346.5 211.4 L347.3 214.9 L348.4 223.9 L349.4 227.5 L350.3 207.6 L351.1 188.6 L351.9 184.8 L352.7 188.6 L353.8 196.2 L354.8 211.4 L355.9 222.1 L357.0 232.8 L357.9 259.3 L358.9 277.2 L359.8 286.9 L360.8 296.7 L361.8 303.2 L362.8 304.8 L363.8 308.9 L364.7 313.0 L365.7 313.8 L366.7 316.2 L367.7 319.5 L368.7 321.1 L369.6 321.9 L370.6 316.2 L371.3 311.3 L372.3 313.0 L373.1 317.8 L374.0 318.7 L374.8 313.0 L375.5 311.3 L376.5 317.8 L377.2 317.8 L378.0 306.5 L378.7 283.7 L379.4 259.3 L379.9 257.7 L380.6 273.9 L381.6 285.3 L382.4 270.7 L383.1 256.0 L383.8 254.4 L384.8 257.7 L385.4 253.4 L386.5 254.3 L387.6 251.6 L388.4 240.8 L389.2 237.3 L390.0 226.5 L390.8 214.0 L391.5 197.9 L392.2 204.2 L393.0 221.2 L393.8 226.5 L394.6 221.2 L395.4 219.4 L396.2 225.6 L397.0 210.4 L397.5 193.3 L398.3 185.7 L399.2 191.4 L400.0 195.2 L401.0 199.0 L401.8 185.7 L402.7 174.2 L403.2 174.2 L404.0 183.8 L404.8 189.5 L405.6 193.3 L406.2 187.6 L407.0 197.1 L408.0 208.5 L409.1 214.0 L409.9 204.7 L410.7 191.4 L411.3 190.4 L412.1 199.0 L412.9 210.4 L413.7 221.2 L414.3 230.7 L415.1 241.5 L415.9 254.0 L416.7 268.3 L417.5 277.2 L418.6 286.2 L419.6 291.6 L420.4 282.6 L421.2 273.7 L422.1 279.0 L423.1 283.5 L424.2 288.0 L425.3 292.4 L426.4 294.2 L427.2 291.6 L428.0 279.0 L428.5 275.4 L429.3 282.6 L430.1 284.4 L430.9 283.5 L431.7 279.0 L432.6 266.5 L433.2 257.6 L433.9 262.9 L434.6 261.1 L435.2 245.0 L435.8 228.9 L436.4 223.6 L437.1 236.1 L437.9 245.0 L438.7 252.2 L439.6 255.8 L440.6 252.2 L441.4 246.8 L442.2 245.0 L443.1 241.5 L443.9 243.2 L444.9 245.9 L446.0 246.8 L447.1 247.7 L447.9 248.6 L448.7 241.5 L449.5 225.3 L450.3 207.5 L451.1 200.3 L451.9 189.6 L452.8 172.2 L453.5 168.9 L454.2 167.2 L454.9 172.2 L455.6 177.1 L456.3 170.5 L457.0 168.9 L457.7 177.1 L458.4 198.5 L459.1 214.6 L459.8 201.8 L460.5 196.8 L461.2 198.5 L461.9 196.8 L462.6 198.5 L463.3 200.1 L464.0 203.4 L464.7 210.0 L465.4 198.5 L466.1 178.7 L466.8 165.7 L467.5 164.1 L467.9 148.7 L468.6 137.8 L469.1 140.9 L469.8 153.3 L470.5 172.2 L471.2 191.9 L471.9 211.5 L472.6 223.9 L473.3 227.0 L474.0 219.3 L474.7 220.8 L475.4 233.2 L475.8 242.0 L476.6 257.2 L477.7 271.0 L478.5 276.5 L479.4 264.1 L480.0 248.9 L480.8 247.5 L481.6 257.2 L482.5 269.6 L483.3 273.8 L484.1 277.9 L485.4 282.1 L486.6 286.2 L487.5 289.0 L486.9 278.4 L488.6 275.2 L490.3 268.9 L492.0 267.7 L493.7 269.1 L495.4 273.3 L497.1 262.4 L498.8 254.8 L500.5 244.9 L502.2 243.8 L503.9 234.0 L505.6 231.5 L507.3 226.4 L509.0 226.6 L510.7 217.7 L512.4 210.6 L514.1 197.1 L515.8 203.8 L517.5 210.1 L519.2 207.8 L520.9 206.4 L522.6 222.1 L524.3 236.8 L526.0 259.5 L527.7 267.5 L529.4 276.3 L531.1 276.7 L532.8 282.0 L534.5 283.8 L536.2 289.6 L537.9 290.9 L539.6 284.0 L541.3 274.1 L543.0 276.7 L544.7 281.6 L546.4 286.4 L548.1 286.3 L549.8 294.0 L551.5 291.6 L553.2 293.8 L554.9 286.7 L556.6 275.5 L558.3 265.9 L560.0 262.2 L561.7 246.9 L563.4 252.0 L565.1 253.3 L566.8 252.1 L568.5 261.7 L570.2 269.6 L571.9 247.5 L573.6 231.9 L575.3 214.3 L577.0 211.1 L578.7 192.8 L580.4 173.2 L582.1 153.7 L583.8 165.9 L585.5 179.0 L587.2 191.1 L588.9 193.2 L590.6 195.1 L592.3 232.0 L594.0 275.5 L595.7 281.9 L597.4 295.6 L599.1 302.2 L600.8 316.9 L602.5 319.3 L604.2 323.9 L605.9 317.0 L606.1 316.5" fill="none" stroke="#fdbf7e" stroke-width="4.7" stroke-linejoin="round" stroke-linecap="round"/>
<path d="M961.7 293.1 L963.4 298.8 L965.1 299.1 L966.8 299.8 L968.5 293.9 L970.2 284.6 L971.9 270.9 L973.6 263.5 L975.3 254.3 L977.0 257.6 L978.7 250.6 L980.4 248.6 L982.1 236.7 L983.8 229.0 L985.5 203.9 L987.2 197.7 L988.9 195.8 L990.6 189.6 L992.3 168.5 L994.0 155.9 L995.7 144.4 L997.4 162.1 L999.1 182.9 L1000.8 191.7 L1002.5 190.0 L1004.2 188.2 L1005.9 186.5 L1007.6 211.0 L1009.3 245.6 L1011.0 273.7 L1012.7 279.3 L1014.4 286.2 L1016.1 290.4 L1017.8 296.5 L1019.5 294.8 L1021.2 302.1 L1022.9 300.8 L1024.6 303.2 L1026.3 300.6 L1028.0 299.0 L1029.7 286.8 L1031.4 272.9 L1033.1 259.4 L1034.8 252.5 L1036.5 253.0 L1038.2 261.0 L1039.9 275.0 L1041.6 249.7 L1043.3 216.3 L1045.0 188.9 L1046.7 161.2 L1048.4 142.6 L1050.1 135.8 L1051.8 150.6 L1053.5 169.3 L1055.2 189.6 L1056.9 214.5 L1058.6 236.6 L1060.3 241.0 L1062.0 247.5 L1063.7 248.7 L1065.4 249.2 L1067.1 243.9 L1068.8 257.5 L1070.5 262.5 L1072.2 244.4 L1073.9 232.8 L1075.6 242.5 L1077.3 246.5 L1079.0 256.2 L1080.7 248.0 L1082.4 243.6 L1084.1 250.7 L1085.8 262.8 L1087.5 252.9 L1089.2 253.2 L1090.9 254.8 L1092.6 254.9 L1094.3 244.0 L1096.0 237.8 L1097.7 219.8 L1099.4 192.3 L1101.1 163.6 L1102.8 157.9 L1104.5 155.8 L1106.2 153.7 L1107.9 154.8 L1109.6 134.9 L1111.3 102.5 L1113.0 95.1 L1114.7 119.4 L1116.4 140.1 L1118.1 161.2 L1119.8 192.6 L1121.5 226.0 L1123.2 261.5 L1124.9 270.3 L1126.6 280.1 L1128.3 278.7 L1130.0 278.6 L1131.7 267.9 L1133.4 266.1 L1135.1 260.1 L1136.8 273.8 L1138.5 282.5 L1140.2 287.6 L1141.9 286.6 L1143.6 293.6 L1145.3 295.7 L1147.0 300.4 L1148.7 295.1 L1150.4 293.4 L1152.1 258.1 L1153.8 236.8 L1155.5 224.5 L1157.2 224.1 L1158.9 221.5 L1160.6 234.7 L1162.3 237.0 L1164.0 243.7 L1165.7 213.5 L1167.4 170.4 L1169.1 128.3 L1170.8 98.1 L1172.5 129.3 L1174.2 168.4 L1175.9 197.2 L1177.6 223.2 L1179.3 230.2 L1181.0 241.8 L1182.7 254.0 L1184.4 238.6 L1186.1 217.8 L1187.8 210.6 L1189.5 247.9 L1191.2 274.8 L1192.9 278.6 L1194.6 284.8 L1196.3 283.1 L1198.0 287.2 L1199.7 287.2 L1201.4 288.5 L1203.1 281.4 L1204.8 287.4 L1206.5 287.4 L1208.2 281.9 L1209.9 269.0 L1211.6 269.4 L1213.3 264.7 L1215.0 264.0 L1216.7 257.7 L1218.4 256.4 L1220.1 246.5 L1221.8 248.7 L1223.5 242.2 L1225.2 240.8 L1226.9 235.4 L1228.6 213.2 L1230.3 185.2 L1232.0 175.1 L1233.7 185.1 L1235.4 198.4 L1237.1 210.0 L1238.8 240.4 L1240.5 270.1 L1242.2 281.6 L1243.9 284.8 L1245.6 288.7 L1247.3 287.6 L1249.0 283.7 L1250.7 273.9 L1252.4 275.1 L1254.1 266.8 L1255.8 263.8 L1257.5 253.6 L1259.2 263.6 L1260.9 267.1 L1262.6 275.8 L1264.3 279.6 L1266.0 259.1 L1267.7 231.6 L1269.4 232.4 L1271.1 227.4 L1272.8 237.0 L1274.5 239.1 L1276.2 240.0 L1277.9 235.3 L1279.6 235.6 L1281.3 219.0 L1283.0 181.7 L1284.7 159.7 L1286.4 153.4 L1288.1 131.4 L1289.8 105.6 L1291.5 107.7 L1293.2 136.8 L1294.9 162.8 L1296.6 192.3 L1298.3 236.2 L1300.0 280.3 L1301.7 285.9 L1303.4 297.2 L1305.1 296.4 L1306.8 302.5 L1308.5 301.3 L1310.2 303.8 L1311.9 302.8 L1313.6 307.4 L1315.3 304.5 L1317.0 307.5 L1318.7 301.2 L1320.4 299.6 L1322.1 293.9 L1323.8 291.0 L1325.5 278.5 L1327.2 273.7 L1328.9 262.8 L1330.6 258.5 L1332.3 244.4 L1334.0 248.1 L1335.7 252.4 L1337.4 265.3 L1339.1 269.2 L1340.8 266.5 L1342.5 247.6 L1344.2 225.7 L1345.9 191.7 L1347.6 138.1 L1349.3 77.1 L1351.0 74.2 L1352.7 96.5 L1354.4 119.9 L1356.1 133.2 L1357.8 142.2 L1359.5 157.0 L1361.2 157.6 L1362.9 159.9 L1364.6 176.9 L1366.3 198.5 L1368.0 229.2 L1369.7 270.9 L1371.4 286.4 L1373.1 288.7 L1374.8 297.5 L1376.5 297.3 L1376.8 298.8" fill="none" stroke="#fdbf7e" stroke-width="4.7" stroke-linejoin="round" stroke-linecap="round"/>
<path d="M191.2 243.1 L192.4 246.4 L193.6 248.8 L194.8 252.9 L195.3 239.1 L195.8 221.2 L196.3 222.0 L196.8 229.3 L197.8 233.4 L198.5 230.1 L199.5 235.8 L200.4 239.1 L201.4 233.4 L202.4 231.8 L203.4 233.4 L204.4 229.3 L205.1 219.6 L205.8 224.4 L206.8 217.1 L207.5 209.8 L208.3 214.7 L209.0 217.9 L209.7 204.1 L210.7 207.4 L211.7 203.3 L212.9 201.7 L213.9 205.7 L215.1 216.3 L216.3 225.2 L217.1 216.3 L218.1 209.8 L219.0 191.9 L220.3 182.1 L221.2 191.1 L222.7 196.8 L223.9 197.6 L224.9 209.8 L225.9 229.3 L226.9 226.1 L227.8 220.4 L230.8 216.2 L231.9 211.7 L233.0 208.0 L234.1 217.2 L235.5 219.0 L236.6 222.7 L237.7 230.0 L239.1 246.5 L240.5 254.7 L241.3 231.8 L241.8 219.9 L242.7 233.7 L244.0 246.5 L245.4 251.1 L246.8 247.4 L247.9 233.7 L248.7 230.9 L249.8 239.2 L251.2 253.8 L252.9 256.6 L253.7 241.0 L255.1 232.7 L256.2 239.2 L257.8 241.9 L259.2 247.4 L260.6 246.5 L261.7 240.1 L262.8 241.0 L263.9 228.2 L265.0 219.0 L266.1 229.1 L267.2 225.4 L268.3 209.8 L269.4 197.0 L270.0 192.8 L270.8 195.5 L271.6 186.6 L272.4 161.5 L273.2 149.0 L274.0 149.9 L275.1 163.3 L276.2 184.8 L277.3 209.8 L278.3 183.0 L279.1 159.7 L280.0 134.7 L280.6 120.3 L281.3 129.3 L282.1 147.2 L283.2 165.1 L284.0 161.5 L284.8 157.9 L285.9 167.8 L286.7 161.5 L287.8 154.3 L288.6 134.7 L289.4 118.6 L290.2 125.7 L291.3 149.0 L292.3 174.0 L293.4 199.1 L294.2 217.0 L294.5 221.8 L295.3 230.7 L296.1 234.3 L296.7 231.6 L297.5 237.9 L298.5 219.1 L299.4 225.3 L300.3 211.0 L301.0 217.3 L301.7 228.0 L302.3 212.8 L303.1 221.8 L303.9 228.9 L304.7 231.6 L305.8 224.5 L306.6 229.8 L307.4 224.5 L308.2 220.0 L309.3 228.0 L310.4 230.7 L311.5 232.5 L312.5 236.1 L313.4 238.8 L314.4 224.5 L315.2 230.7 L316.3 237.0 L317.1 227.1 L317.7 217.3 L318.5 224.5 L319.3 226.2 L320.1 220.0 L320.9 224.5 L321.7 227.1 L322.5 224.5 L323.6 230.7 L324.7 233.4 L325.7 221.8 L326.5 203.9 L327.1 203.3 L327.9 211.4 L328.7 222.1 L329.5 227.5 L330.6 218.5 L331.4 204.2 L332.2 186.3 L333.0 175.6 L333.6 173.8 L334.4 182.7 L335.2 202.4 L336.0 213.2 L336.8 216.7 L337.6 213.2 L338.1 222.1 L338.7 184.5 L339.2 164.8 L340.0 168.4 L340.8 150.5 L341.6 139.8 L342.4 138.0 L343.3 146.9 L344.1 161.3 L344.9 179.2 L345.7 197.1 L346.5 211.4 L347.3 214.9 L348.4 223.9 L349.4 227.5 L350.3 207.8 L351.1 189.9 L351.9 186.3 L352.7 189.9 L353.8 197.1 L354.8 211.4 L355.9 222.1 L357.0 232.8 L357.8 250.7 L358.6 266.8 L358.9 272.3 L359.8 275.6 L360.8 275.6 L361.8 270.7 L362.5 264.2 L363.3 263.4 L364.3 267.4 L365.0 270.7 L365.7 269.0 L366.7 273.9 L367.7 277.2 L368.7 279.6 L369.6 279.6 L370.6 281.2 L371.3 278.8 L372.1 270.7 L372.8 269.9 L373.6 275.6 L374.3 276.4 L375.0 269.0 L375.8 270.7 L376.5 273.9 L377.2 275.6 L378.0 270.7 L378.4 252.8 L378.9 230.0 L379.4 226.8 L380.2 239.8 L380.9 254.4 L381.6 264.2 L382.4 244.6 L383.1 226.8 L383.8 230.0 L384.8 239.0 L385.4 237.3 L386.5 231.9 L387.3 228.3 L388.1 223.8 L388.9 226.5 L389.7 230.1 L390.5 208.6 L391.3 194.3 L392.2 201.5 L393.0 217.6 L393.8 221.2 L394.6 217.6 L395.1 214.0 L395.9 222.9 L396.7 208.6 L397.5 194.3 L398.3 187.2 L399.2 192.5 L400.0 196.1 L401.0 199.7 L401.8 187.2 L402.7 176.4 L403.2 176.4 L404.0 185.4 L404.8 190.7 L405.6 194.3 L406.2 188.9 L407.0 197.9 L408.0 208.6 L409.1 214.0 L409.9 205.1 L410.7 192.5 L411.3 191.6 L412.1 199.7 L412.9 210.4 L413.7 221.2 L414.5 235.5 L415.6 246.2 L416.6 260.5 L417.7 267.7 L418.8 269.5 L419.9 267.7 L420.7 251.6 L421.2 247.1 L422.0 256.9 L423.1 264.1 L424.2 267.7 L425.3 271.3 L426.3 271.3 L427.1 265.9 L428.0 249.8 L428.5 246.2 L429.3 253.4 L430.1 258.7 L431.2 258.7 L432.0 251.6 L432.5 235.5 L433.1 230.1 L433.9 242.6 L434.7 239.1 L435.5 214.0 L436.0 201.5 L436.8 212.2 L437.6 221.2 L438.7 230.1 L439.5 235.5 L440.3 231.9 L441.4 231.0 L442.2 224.7 L443.1 221.2 L443.6 224.5 L444.1 229.8 L444.9 225.3 L445.7 229.8 L446.6 220.9 L447.4 228.9 L448.2 227.1 L448.7 220.0 L449.5 209.2 L450.3 194.9 L451.1 193.1 L451.9 187.8 L452.1 180.6 L452.8 174.5 L453.5 171.4 L454.2 169.8 L454.9 174.5 L455.6 179.1 L456.3 172.9 L457.0 171.4 L457.7 179.1 L458.4 199.2 L459.1 214.6 L459.8 202.3 L460.5 197.6 L461.2 199.2 L461.9 197.6 L462.6 199.2 L463.3 200.7 L464.0 203.8 L464.7 210.0 L465.4 199.2 L466.1 180.6 L466.8 168.3 L467.5 166.7 L467.9 151.3 L468.6 140.5 L469.1 143.5 L469.8 155.9 L470.5 174.5 L471.2 193.0 L471.9 211.5 L472.6 223.9 L473.3 227.0 L474.0 219.3 L474.7 220.8 L475.4 233.2 L476.1 245.5 L476.8 254.8 L477.5 261.0 L478.2 264.1 L478.6 248.6 L479.1 230.1 L479.8 225.4 L480.5 228.5 L481.2 236.3 L481.9 244.0 L482.6 248.6 L483.3 244.0 L484.0 247.1 L484.9 250.2 L485.8 256.4 L486.8 262.5 L487.5 262.5 L486.9 261.1 L490.2 251.0 L492.2 235.9 L493.9 266.1 L496.5 248.5 L499.0 225.8 L501.5 218.2 L504.0 230.8 L505.3 198.1 L507.8 210.7 L510.3 203.1 L512.9 177.9 L514.9 175.4 L517.4 203.1 L519.9 195.5 L521.7 200.6 L524.2 218.2 L526.7 246.0 L529.2 233.4 L531.8 256.0 L535.5 261.1 L539.3 266.1 L541.8 230.8 L544.4 251.0 L546.9 261.1 L549.4 266.1 L551.9 251.0 L554.4 268.6 L557.0 235.9 L559.5 240.9 L562.0 215.7 L564.5 230.8 L567.1 210.7 L569.6 248.5 L572.1 225.8 L574.6 200.6 L577.1 205.6 L579.7 180.4 L582.2 152.7 L584.7 172.9 L587.2 190.5 L591.0 193.0 L593.5 230.8 L596.0 266.1 L599.8 268.6 L603.6 273.7 L606.1 263.6" fill="none" stroke="#7fc97f" stroke-width="4.7" stroke-linejoin="round" stroke-linecap="round"/>
<path d="M961.7 266.5 L965.4 275.7 L968.5 269.6 L971.6 244.9 L974.0 211.0 L976.2 232.6 L978.4 220.2 L980.8 211.0 L983.3 214.1 L985.4 189.4 L987.6 195.6 L990.1 183.3 L993.1 161.7 L995.6 143.2 L997.8 164.8 L999.9 192.5 L1003.0 189.4 L1006.1 186.3 L1008.6 220.2 L1011.0 254.1 L1013.2 248.0 L1016.3 260.3 L1019.3 266.5 L1022.4 272.6 L1025.5 275.7 L1028.6 269.6 L1030.7 235.7 L1033.2 223.3 L1035.7 232.6 L1037.8 220.2 L1040.0 248.0 L1042.4 214.1 L1044.9 183.3 L1047.1 155.5 L1049.5 130.9 L1051.7 149.4 L1054.8 183.3 L1057.9 226.4 L1060.9 232.6 L1064.0 238.7 L1067.1 226.4 L1070.2 244.9 L1072.7 214.1 L1074.2 195.6 L1076.3 220.2 L1078.8 232.6 L1081.0 214.1 L1083.1 232.6 L1085.6 214.1 L1088.1 232.6 L1090.2 241.8 L1092.4 232.6 L1094.8 214.1 L1097.3 207.9 L1099.5 177.1 L1101.6 158.6 L1104.1 155.5 L1106.5 152.4 L1108.7 155.5 L1110.9 106.2 L1112.7 90.8 L1114.9 121.6 L1118.0 158.6 L1121.0 207.9 L1123.2 244.9 L1125.7 232.6 L1128.1 257.2 L1130.3 238.7 L1132.4 248.0 L1134.9 226.4 L1138.0 257.2 L1141.1 260.3 L1144.1 266.5 L1147.2 272.6 L1150.3 266.5 L1153.4 207.9 L1155.9 220.2 L1158.3 211.0 L1161.1 226.4 L1163.4 221.5 L1164.2 232.6 L1166.1 201.3 L1168.4 140.8 L1170.8 97.1 L1172.8 134.1 L1175.1 184.5 L1177.5 214.8 L1180.2 228.2 L1182.9 248.4 L1185.2 221.5 L1187.6 201.3 L1190.3 228.2 L1192.9 255.1 L1195.3 241.7 L1197.6 268.6 L1200.3 248.4 L1203.0 265.2 L1205.4 255.1 L1207.7 261.8 L1210.4 235.0 L1213.1 241.7 L1215.5 228.2 L1217.8 235.0 L1220.5 231.6 L1223.2 228.2 L1225.5 208.1 L1227.9 214.8 L1229.9 181.2 L1232.3 171.1 L1234.6 191.3 L1237.3 208.1 L1240.0 228.2 L1242.4 255.1 L1244.7 261.8 L1247.4 265.2 L1250.1 255.1 L1252.4 228.2 L1254.8 248.4 L1257.5 228.2 L1260.2 221.5 L1262.5 241.7 L1264.9 221.5 L1267.6 201.3 L1270.3 208.1 L1272.6 221.5 L1276.0 218.2 L1279.3 221.5 L1281.7 187.9 L1284.4 161.0 L1287.1 150.9 L1289.4 107.2 L1291.1 100.5 L1293.4 140.8 L1296.1 181.2 L1298.5 228.2 L1301.2 275.3 L1304.5 278.7 L1307.9 282.0 L1311.3 280.3 L1314.6 285.4 L1318.0 275.3 L1321.3 268.6 L1324.0 241.7 L1326.4 235.0 L1328.7 241.7 L1331.4 221.5 L1333.8 208.1 L1336.1 228.2 L1338.8 241.7 L1341.5 221.5 L1344.2 194.6 L1346.6 174.5 L1348.2 107.2 L1349.9 60.2 L1352.3 90.4 L1355.0 127.4 L1357.6 140.8 L1360.0 161.0 L1362.4 154.3 L1365.0 181.2 L1367.7 214.8 L1370.1 255.1 L1372.4 271.9 L1375.8 268.6" fill="none" stroke="#7fc97f" stroke-width="4.7" stroke-linejoin="round" stroke-linecap="round"/>
<path d="M149.6 842.0 C150.2 843.3 153.2 851.1 154.3 851.4 C155.4 851.6 156.9 845.6 158.0 843.9 C159.1 842.1 161.7 841.3 162.7 838.3 C163.7 835.3 164.6 825.7 165.5 821.5 C166.3 817.3 168.2 807.2 169.2 806.5 C170.2 805.9 171.9 815.6 172.9 816.8 C173.9 818.1 175.3 813.9 176.7 815.9 C178.0 817.9 181.5 830.5 183.2 831.8 C185.0 833.0 188.3 825.6 189.7 825.2 C191.2 824.8 193.2 829.7 194.4 829.0 C195.7 828.2 197.8 824.1 199.1 819.6 C200.3 815.1 202.5 798.3 203.7 795.3 C205.0 792.4 207.0 798.7 208.4 797.2 C209.8 795.7 212.8 785.6 214.0 784.1 C215.3 782.7 216.8 787.3 217.8 786.0 C218.7 784.8 220.2 778.3 221.5 774.8 C222.7 771.3 225.7 763.5 227.1 759.9 C228.5 756.3 230.5 748.0 231.8 747.7 C233.0 747.5 235.3 754.4 236.4 758.0 C237.5 761.6 238.9 769.8 240.2 774.8 C241.4 779.8 244.3 794.8 245.8 795.3 C247.3 795.8 250.1 786.3 251.4 778.5 C252.6 770.8 254.0 745.1 255.1 737.5 C256.2 729.9 258.5 722.5 259.8 721.6 C261.0 720.7 263.2 728.7 264.4 730.9 C265.7 733.2 267.9 737.0 269.1 738.4 C270.3 739.8 272.6 739.1 273.8 741.2 C274.9 743.3 276.1 746.3 277.5 754.3 C278.9 762.2 282.5 796.2 284.0 800.9 C285.5 805.7 286.6 793.7 288.7 789.7 C290.8 785.8 297.9 775.1 300.0 771.6 C302.1 768.0 303.1 765.4 304.2 763.2 C305.3 760.9 307.3 754.5 308.4 754.7 C309.5 755.0 311.4 763.3 312.6 765.3 C313.9 767.2 316.6 768.2 317.9 769.5 C319.2 770.7 321.0 771.9 322.1 774.7 C323.2 777.5 325.1 783.9 326.3 790.5 C327.6 797.1 330.0 816.9 331.6 824.2 C333.1 831.5 336.6 845.3 337.9 845.3 C339.2 845.3 340.2 828.1 341.1 824.2 C341.9 820.3 343.2 814.4 344.2 815.8 C345.2 817.2 347.3 830.5 348.4 834.7 C349.5 838.9 351.1 844.8 352.6 847.4 C354.2 849.9 358.5 854.8 360.0 853.7 C361.5 852.6 363.1 842.3 364.2 838.9 C365.3 835.6 367.3 829.0 368.4 828.4 C369.5 827.9 370.9 830.0 372.6 834.7 C374.3 839.5 379.5 859.7 381.1 864.2 C382.6 868.7 383.2 870.4 384.2 868.4 C385.2 866.5 387.2 852.8 388.4 849.5 C389.7 846.1 392.3 842.9 393.7 843.2 C395.1 843.4 397.5 849.3 398.9 851.6 C400.4 853.8 402.8 858.0 404.2 860.0 C405.6 862.0 408.1 866.6 409.5 866.3 C410.9 866.0 413.6 860.7 414.7 857.9 C415.9 855.1 416.9 846.9 417.9 845.3 C418.9 843.6 421.0 847.2 422.1 845.3 C423.2 843.3 425.2 834.2 426.3 830.5 C427.4 826.9 429.4 820.1 430.5 817.9 C431.6 815.6 433.6 814.8 434.7 813.7 C435.9 812.6 437.8 813.1 438.9 809.5 C440.1 805.8 442.0 792.8 443.2 786.3 C444.3 779.9 446.5 767.2 447.4 761.1 C448.2 754.9 448.8 742.7 449.5 740.4 C450.2 738.2 451.8 745.2 452.6 744.0 C453.4 742.9 454.9 737.8 455.7 732.0 C456.5 726.2 457.9 706.5 458.8 700.4 C459.6 694.3 461.0 687.8 461.8 686.0 C462.7 684.2 464.0 684.9 464.9 687.0 C465.9 689.2 467.9 696.8 469.0 702.5 C470.1 708.1 472.0 721.5 473.1 729.6 C474.2 737.7 476.2 763.6 477.2 763.3 C478.3 763.0 480.4 735.8 481.4 727.2 C482.3 718.5 483.6 706.0 484.4 698.3 C485.3 690.7 486.8 675.6 487.5 669.6 C488.3 663.6 489.3 654.0 490.0 653.2 C490.7 652.3 491.9 659.3 492.7 663.4 C493.4 667.5 494.8 678.5 495.7 684.0 C496.7 689.4 498.9 702.3 499.8 704.5 C500.8 706.7 502.1 701.5 502.9 700.4 C503.7 699.3 505.0 695.3 506.0 696.3 C507.0 697.2 509.2 707.0 510.1 707.6 C511.1 708.1 512.2 702.5 513.2 700.4 C514.2 698.3 516.3 696.3 517.3 692.2 C518.3 688.1 519.6 675.1 520.4 669.6 C521.2 664.1 522.6 652.5 523.5 651.1 C524.3 649.7 525.6 654.7 526.5 659.3 C527.5 664.0 529.6 678.6 530.7 686.0 C531.8 693.5 533.7 706.8 534.8 715.1 C535.9 723.5 537.8 739.6 538.9 748.8 C540.0 758.1 542.1 777.1 543.1 784.2 C544.1 791.2 545.2 798.6 546.2 801.6 C547.1 804.6 549.3 805.0 550.3 806.8 C551.2 808.5 552.4 816.3 553.4 815.0 C554.3 813.6 556.5 798.5 557.5 796.5 C558.4 794.4 559.8 801.6 560.5 799.6 C561.3 797.5 562.4 787.1 563.0 781.1 C563.6 775.1 564.5 754.4 565.1 754.4 C565.6 754.4 566.6 776.0 567.1 781.1 C567.6 786.2 568.1 790.1 568.8 792.4 C569.4 794.7 571.0 798.7 571.8 798.5 C572.7 798.4 574.1 791.4 574.9 791.4 C575.7 791.4 577.0 796.6 578.0 798.5 C579.0 800.5 581.2 805.6 582.1 805.7 C583.1 805.9 584.1 800.0 585.2 799.6 C586.3 799.2 589.1 802.9 590.3 802.7 C591.6 802.4 593.5 798.6 594.4 797.5 C595.4 796.4 596.6 793.8 597.5 794.4 C598.5 795.1 600.5 801.1 601.6 802.7 C602.7 804.2 604.5 804.6 605.7 805.7 C607.0 806.8 609.5 809.2 610.9 810.9 C612.2 812.5 614.8 818.6 616.0 818.1 C617.2 817.5 619.0 808.4 620.1 806.8 C621.2 805.1 623.4 804.6 624.2 805.7 C625.0 806.8 625.5 815.7 626.3 815.0 C627.1 814.3 629.4 803.1 630.4 800.6 C631.3 798.1 632.6 797.0 633.5 796.5 C634.3 795.9 635.6 797.5 636.5 796.5 C637.5 795.5 639.7 789.7 640.7 789.3 C641.6 788.9 642.9 792.6 643.7 793.4 C644.6 794.2 645.9 795.5 646.8 795.5 C647.8 795.5 650.0 792.9 650.9 793.4 C651.9 794.0 653.1 798.1 654.0 799.6 C655.0 801.1 657.0 805.7 658.1 804.7 C659.2 803.7 661.3 795.8 662.2 792.4 C663.2 789.0 664.5 781.9 665.3 779.0 C666.1 776.2 667.6 771.6 668.4 770.8 C669.2 770.0 670.7 771.6 671.6 773.3 C672.4 774.9 673.8 781.3 674.7 783.5 C675.5 785.7 676.9 790.5 677.7 789.7 C678.6 788.9 680.0 781.5 680.8 777.4 C681.6 773.3 683.1 764.4 683.9 758.9 C684.7 753.4 686.2 741.5 687.0 736.3 C687.8 731.1 689.4 722.7 690.1 719.8 C690.7 717.0 691.4 713.8 692.1 714.7 C692.8 715.6 694.4 721.7 695.2 726.9 C696.0 732.0 697.5 747.9 698.3 753.3 C699.1 758.8 700.5 765.2 701.4 767.8 C702.2 770.4 703.6 772.6 704.4 772.6 C705.3 772.6 706.8 766.8 707.5 767.8 C708.2 768.8 709.0 785.0 709.6 779.8 C710.1 774.7 711.1 739.4 711.6 729.3 C712.2 719.2 713.0 707.0 713.7 704.2 C714.4 701.4 715.9 710.5 716.8 708.3 C717.6 706.2 719.0 692.2 719.8 687.8 C720.7 683.4 722.1 677.4 722.9 675.5 C723.7 673.6 725.2 672.3 726.0 673.4 C726.8 674.5 728.3 680.1 729.1 683.7 C729.9 687.3 731.3 695.0 732.2 700.1 C733.0 705.2 734.4 715.9 735.3 722.1 C736.1 728.2 737.5 740.3 738.3 746.1 C739.2 751.9 740.6 762.2 741.4 765.4 C742.2 768.6 743.5 768.0 744.5 770.2 C745.5 772.4 747.5 780.0 748.6 782.2 C749.7 784.5 751.8 789.9 752.7 787.0 C753.7 784.2 755.0 767.3 755.8 760.6 C756.6 753.8 758.1 740.3 758.9 736.5 C759.7 732.6 761.1 731.7 762.0 731.7 C762.8 731.7 764.1 734.6 765.0 736.5 C766.0 738.4 768.0 742.3 769.1 746.1 C770.2 750.0 772.2 760.9 773.3 765.4 C774.3 769.9 776.3 776.0 777.4 779.8 C778.5 783.6 780.5 787.9 781.5 793.8 C782.5 799.7 784.0 817.4 784.9 824.2 C785.9 830.9 787.7 841.5 788.7 844.7 C789.7 847.9 791.4 847.4 792.4 848.4 C793.4 849.4 795.1 850.4 796.1 852.2 C797.1 853.9 798.9 860.5 799.9 861.5 C800.9 862.5 802.6 859.6 803.6 859.6 C804.6 859.6 806.5 860.8 807.3 861.5 C808.2 862.3 809.3 865.6 810.1 865.2 C811.0 864.9 813.0 859.0 813.9 858.7 C814.8 858.5 815.8 861.8 816.7 863.4 C817.6 865.0 819.5 869.6 820.4 870.8 C821.3 872.1 822.5 872.7 823.2 872.7 C824.0 872.7 825.2 870.1 826.0 870.8 C826.9 871.6 828.8 876.8 829.8 878.3 C830.8 879.8 832.5 881.4 833.5 882.0 C834.5 882.7 836.2 882.7 837.2 883.0 C838.2 883.2 840.0 884.0 841.0 883.9 C842.0 883.8 843.7 882.5 844.7 882.0 C845.7 881.5 847.6 881.2 848.4 880.2 C849.3 879.2 850.5 874.9 851.2 874.6 C852.0 874.2 853.2 877.1 854.0 877.4 C854.9 877.6 856.8 876.8 857.8 876.4 C858.8 876.1 860.6 877.8 861.5 874.6 C862.4 871.3 863.6 859.1 864.3 852.2 C865.1 845.2 866.5 826.5 867.1 822.3 C867.7 818.1 868.4 818.2 869.0 820.4 C869.6 822.7 870.9 834.9 871.8 839.1 C872.6 843.3 874.6 851.9 875.5 852.2 C876.4 852.4 877.4 843.5 878.3 841.0 C879.2 838.5 881.2 835.2 882.0 833.5 C882.9 831.7 884.1 827.9 884.8 827.9 C885.6 827.9 887.0 833.0 887.6 833.5 C888.3 834.0 889.1 832.8 890.0 831.7 C890.9 830.7 893.0 826.7 894.1 825.6 C895.2 824.5 897.3 826.0 898.2 823.5 C899.2 821.1 900.5 810.1 901.3 807.1 C902.1 804.1 903.6 803.7 904.4 800.9 C905.2 798.2 906.6 790.9 907.5 786.5 C908.3 782.2 909.9 773.5 910.5 768.1 C911.2 762.6 911.9 747.1 912.6 745.5 C913.3 743.8 914.9 752.2 915.7 755.7 C916.5 759.3 917.9 769.4 918.8 772.2 C919.6 774.9 921.0 776.3 921.8 776.3 C922.7 776.3 924.2 773.5 924.9 772.2 C925.6 770.8 926.3 765.2 927.0 766.0 C927.7 766.8 929.2 778.9 930.1 778.3 C930.9 777.8 932.3 766.7 933.1 761.9 C934.0 757.1 935.4 746.3 936.2 742.4 C937.0 738.6 938.5 733.1 939.3 732.8 C940.1 732.5 941.6 738.4 942.4 740.0 C943.2 741.6 944.5 743.6 945.5 744.9 C946.4 746.1 948.6 751.3 949.6 749.7 C950.5 748.1 951.8 737.0 952.7 732.8 C953.5 728.6 955.1 720.3 955.7 718.4 C956.4 716.4 957.1 716.8 957.8 718.4 C958.5 720.0 960.0 727.8 960.9 730.4 C961.7 733.0 963.1 736.0 964.0 737.6 C964.8 739.2 966.3 742.8 967.0 742.4 C967.7 742.1 968.4 734.6 969.1 735.2 C969.8 735.9 971.2 743.7 972.2 747.3 C973.1 750.8 975.2 758.8 976.3 761.7 C977.4 764.6 979.4 769.6 980.4 768.9 C981.3 768.3 982.6 760.7 983.5 756.9 C984.3 753.0 985.9 742.4 986.5 740.0 C987.2 737.6 987.9 737.6 988.6 738.8 C989.3 740.1 990.9 746.3 991.7 749.7 C992.5 753.0 993.9 760.3 994.8 764.1 C995.6 768.0 997.1 775.1 997.8 778.6 C998.5 782.1 999.3 787.1 1000.0 790.3 C1000.7 793.5 1002.3 799.1 1003.1 802.7 C1003.9 806.2 1005.3 812.9 1006.2 817.0 C1007.0 821.1 1008.4 829.5 1009.2 833.5 C1010.1 837.4 1011.4 842.8 1012.3 846.8 C1013.3 850.8 1015.3 860.0 1016.4 863.3 C1017.5 866.5 1019.6 872.3 1020.5 871.5 C1021.5 870.6 1022.8 860.7 1023.6 857.1 C1024.4 853.5 1025.7 846.7 1026.7 844.8 C1027.7 842.8 1029.6 842.7 1030.8 842.7 C1032.0 842.7 1034.9 843.1 1035.9 844.8 C1037.0 846.4 1038.1 852.6 1039.0 855.0 C1040.0 857.5 1042.2 861.3 1043.1 863.3 C1044.1 865.2 1045.4 869.1 1046.2 869.4 C1047.0 869.7 1048.5 867.2 1049.3 865.3 C1050.1 863.4 1051.6 856.4 1052.4 855.0 C1053.2 853.7 1054.6 853.4 1055.5 855.0 C1056.3 856.7 1057.7 864.6 1058.5 867.4 C1059.4 870.1 1060.7 874.3 1061.6 875.6 C1062.6 876.8 1064.8 878.5 1065.7 876.6 C1066.7 874.7 1068.0 866.3 1068.8 861.2 C1069.6 856.1 1071.1 840.5 1071.9 838.6 C1072.7 836.7 1074.2 845.7 1075.0 846.8 C1075.7 847.9 1077.0 849.6 1077.6 846.8 C1078.3 844.1 1079.5 832.3 1080.1 826.3 C1080.8 820.3 1081.9 806.3 1082.6 801.6 C1083.3 797.0 1084.5 790.5 1085.3 791.4 C1086.0 792.2 1087.1 803.1 1087.9 807.8 C1088.7 812.4 1090.5 822.4 1091.4 826.3 C1092.3 830.1 1093.5 834.6 1094.5 836.5 C1095.5 838.5 1097.5 841.2 1098.6 840.7 C1099.7 840.1 1101.6 834.1 1102.7 832.4 C1103.8 830.8 1105.7 829.7 1106.8 828.3 C1107.9 827.0 1110.0 821.6 1110.9 822.2 C1111.9 822.7 1113.1 830.5 1114.0 832.4 C1115.0 834.4 1116.9 834.6 1118.1 836.5 C1119.4 838.5 1122.0 845.5 1123.3 846.8 C1124.5 848.2 1126.4 848.7 1127.4 846.8 C1128.3 844.9 1129.6 838.5 1130.4 832.4 C1131.3 826.4 1132.7 809.0 1133.5 801.6 C1134.3 794.2 1135.8 782.7 1136.6 777.0 C1137.4 771.2 1138.7 763.1 1139.7 758.5 C1140.6 753.8 1142.8 747.8 1143.8 742.1 C1144.8 736.4 1146.4 719.8 1147.3 715.7 C1148.1 711.7 1149.2 712.5 1149.9 711.7 C1150.6 710.9 1151.9 709.4 1152.6 709.9 C1153.3 710.5 1154.5 714.1 1155.2 715.7 C1155.9 717.3 1157.2 722.2 1157.9 722.0 C1158.6 721.7 1159.8 715.0 1160.6 713.6 C1161.3 712.3 1162.5 710.6 1163.2 711.7 C1163.9 712.8 1165.2 717.0 1165.9 722.0 C1166.6 726.9 1167.8 742.6 1168.5 749.0 C1169.3 755.4 1170.5 769.2 1171.2 769.8 C1171.9 770.3 1173.2 756.2 1173.9 753.1 C1174.6 750.1 1175.8 747.5 1176.5 746.9 C1177.2 746.4 1178.5 749.0 1179.2 749.0 C1179.9 749.0 1181.1 746.9 1181.8 746.9 C1182.6 746.9 1183.8 748.4 1184.5 749.0 C1185.2 749.5 1186.5 750.2 1187.2 751.1 C1187.9 751.9 1189.1 753.6 1189.8 755.2 C1190.5 756.9 1191.8 764.4 1192.5 763.5 C1193.2 762.7 1194.4 754.3 1195.2 749.0 C1195.9 743.7 1197.1 729.5 1197.8 724.0 C1198.5 718.6 1199.8 710.5 1200.5 708.2 C1201.2 705.8 1202.5 709.0 1203.1 706.4 C1203.7 703.8 1204.4 692.7 1204.9 688.7 C1205.5 684.6 1206.6 677.4 1207.2 676.2 C1207.8 675.1 1208.7 677.4 1209.3 679.8 C1210.0 682.2 1211.3 689.2 1212.0 694.0 C1212.7 698.8 1214.0 709.5 1214.7 715.7 C1215.4 721.9 1216.6 734.0 1217.3 740.7 C1218.0 747.3 1219.3 760.1 1220.0 765.6 C1220.7 771.2 1221.9 779.5 1222.6 782.2 C1223.4 785.0 1224.6 787.2 1225.3 786.4 C1226.0 785.6 1227.3 777.1 1228.0 776.0 C1228.7 774.9 1229.9 775.7 1230.6 778.1 C1231.3 780.5 1232.7 790.9 1233.3 794.2 C1233.9 797.5 1234.3 799.2 1234.9 802.7 C1235.6 806.2 1237.1 815.7 1238.1 820.2 C1239.0 824.6 1241.1 833.1 1242.1 836.0 C1243.0 839.0 1244.4 843.4 1245.2 842.4 C1246.1 841.3 1247.7 832.5 1248.4 828.1 C1249.2 823.7 1250.1 812.0 1250.8 809.0 C1251.5 806.1 1253.1 804.8 1254.0 805.9 C1254.8 806.9 1256.3 813.6 1257.1 817.0 C1258.0 820.4 1259.5 828.7 1260.3 831.3 C1261.2 833.8 1262.5 835.4 1263.5 836.0 C1264.4 836.7 1266.4 835.2 1267.5 836.0 C1268.5 836.9 1270.4 841.1 1271.4 842.4 C1272.5 843.7 1274.3 844.5 1275.4 845.6 C1276.5 846.6 1278.8 849.7 1279.4 850.3" fill="none" stroke="#bbb1d6" stroke-width="4.3" stroke-linejoin="round" stroke-linecap="round"/>
<path d="M148.7 893.4 C149.3 894.9 152.1 904.7 153.3 904.6 C154.6 904.4 156.8 893.4 158.0 892.4 C159.3 891.4 161.7 898.3 162.7 897.1 C163.7 895.9 164.7 889.2 165.5 883.1 C166.2 877.0 167.7 855.8 168.3 851.4 C168.9 846.9 169.4 847.5 170.1 849.5 C170.9 851.5 172.8 863.7 173.9 866.3 C175.0 868.9 177.2 866.6 178.5 869.1 C179.9 871.6 182.7 884.6 184.1 885.0 C185.6 885.3 188.4 872.8 189.7 871.9 C191.1 871.0 193.0 878.2 194.4 878.4 C195.8 878.7 198.8 878.4 200.0 873.8 C201.3 869.2 202.5 847.5 203.7 843.9 C205.0 840.3 208.0 849.2 209.4 846.7 C210.7 844.2 212.8 827.2 214.0 825.2 C215.3 823.2 217.7 834.0 218.7 831.8 C219.7 829.5 220.4 815.9 221.5 808.4 C222.6 800.9 225.7 781.1 227.1 775.7 C228.5 770.4 230.3 765.7 231.8 768.3 C233.2 770.9 236.4 787.4 238.3 795.3 C240.2 803.3 244.0 826.8 245.8 828.0 C247.5 829.3 250.1 814.0 251.4 804.7 C252.6 795.3 254.0 767.0 255.1 758.0 C256.2 749.0 258.6 739.0 259.8 737.5 C260.9 736.0 262.3 744.7 263.5 746.8 C264.7 748.9 267.7 752.3 269.1 753.3 C270.5 754.3 272.6 750.9 273.8 754.3 C274.9 757.6 276.1 769.3 277.5 778.5 C278.9 787.8 282.5 819.7 284.0 823.4 C285.5 827.0 286.6 810.7 288.7 805.6 C290.8 800.5 297.9 789.1 300.0 785.3 C302.1 781.4 303.1 778.8 304.2 776.8 C305.3 774.9 307.3 769.8 308.4 770.5 C309.5 771.2 311.4 780.6 312.6 782.1 C313.9 783.6 316.6 781.5 317.9 782.1 C319.2 782.7 321.0 784.2 322.1 786.3 C323.2 788.4 325.1 792.1 326.3 797.9 C327.6 803.6 330.0 821.5 331.6 829.5 C333.1 837.5 336.6 856.9 337.9 857.9 C339.2 858.9 340.2 840.8 341.1 836.8 C341.9 832.9 343.4 827.3 344.2 828.4 C345.1 829.5 346.5 840.2 347.4 845.3 C348.2 850.3 349.4 859.0 350.5 866.3 C351.6 873.6 354.4 894.1 355.8 900.0 C357.2 905.9 359.8 911.1 361.1 910.5 C362.3 910.0 364.3 899.2 365.3 895.8 C366.2 892.4 367.4 885.3 368.4 885.3 C369.4 885.3 371.2 891.3 372.6 895.8 C374.0 900.3 377.4 914.2 378.9 918.9 C380.5 923.7 382.9 933.0 384.2 931.6 C385.5 930.2 387.0 913.2 388.4 908.4 C389.8 903.6 393.3 895.8 394.7 895.8 C396.1 895.8 397.7 905.9 398.9 908.4 C400.2 910.9 402.8 912.5 404.2 914.7 C405.6 917.0 408.1 927.2 409.5 925.3 C410.9 923.3 413.6 905.6 414.7 900.0 C415.9 894.4 416.9 886.0 417.9 883.2 C418.9 880.4 421.0 882.3 422.1 878.9 C423.2 875.6 425.2 861.8 426.3 857.9 C427.4 854.0 429.4 850.0 430.5 849.5 C431.6 848.9 433.8 852.3 434.7 853.7 C435.7 855.1 436.9 860.6 437.9 860.0 C438.9 859.4 441.0 854.2 442.1 849.5 C443.2 844.7 445.3 831.8 446.3 824.2 C447.3 816.6 448.7 800.5 449.5 792.6 C450.2 784.8 451.2 772.6 452.0 765.3 C452.8 757.9 454.8 745.7 455.7 737.7 C456.6 729.8 457.9 712.1 458.8 705.9 C459.6 699.7 461.0 693.3 461.8 691.5 C462.7 689.7 464.0 690.3 464.9 692.5 C465.9 694.8 467.9 702.4 469.0 708.2 C470.1 713.9 472.0 727.6 473.1 735.5 C474.2 743.4 476.2 767.6 477.2 767.3 C478.3 767.0 480.4 741.7 481.4 733.2 C482.3 724.7 483.6 711.6 484.4 703.8 C485.3 696.1 486.8 681.1 487.5 675.1 C488.3 669.1 489.3 659.5 490.0 658.7 C490.7 657.8 491.9 664.8 492.7 668.9 C493.4 673.0 494.8 683.9 495.7 689.5 C496.7 695.0 498.9 708.3 499.8 710.4 C500.8 712.6 502.1 707.1 502.9 705.9 C503.7 704.7 505.0 700.7 506.0 701.8 C507.0 702.9 509.2 713.3 510.1 713.9 C511.1 714.4 512.2 708.1 513.2 705.9 C514.2 703.7 516.3 701.8 517.3 697.7 C518.3 693.6 519.6 680.6 520.4 675.1 C521.2 669.6 522.6 658.0 523.5 656.6 C524.3 655.2 525.6 660.2 526.5 664.8 C527.5 669.5 529.6 683.9 530.7 691.5 C531.8 699.1 533.7 713.5 534.8 721.8 C535.9 730.1 537.8 743.6 538.9 753.7 C540.0 763.8 542.1 787.6 543.1 797.5 C544.1 807.5 545.2 822.9 546.2 828.3 C547.1 833.8 549.2 835.3 550.3 838.6 C551.4 841.9 553.3 853.8 554.4 853.0 C555.5 852.2 557.5 835.7 558.5 832.4 C559.4 829.2 560.7 830.5 561.6 828.3 C562.4 826.1 564.0 819.0 564.7 816.0 C565.3 813.0 565.9 804.1 566.7 805.7 C567.5 807.4 569.9 825.0 570.8 828.3 C571.8 831.6 573.1 830.7 573.9 830.4 C574.7 830.1 576.2 824.6 577.0 826.3 C577.8 827.9 579.1 837.8 580.1 842.7 C581.0 847.6 583.1 862.2 584.2 863.3 C585.3 864.3 587.3 851.2 588.3 850.9 C589.2 850.7 590.4 862.6 591.4 861.2 C592.3 859.8 594.5 843.9 595.5 840.7 C596.4 837.4 597.7 836.0 598.5 836.5 C599.4 837.1 600.7 841.8 601.6 844.8 C602.6 847.8 604.5 855.6 605.7 859.1 C607.0 862.7 609.5 867.8 610.9 871.5 C612.2 875.2 614.5 888.0 616.0 886.9 C617.5 885.8 620.8 863.7 622.2 863.3 C623.5 862.8 625.3 880.8 626.3 883.8 C627.2 886.8 628.5 889.7 629.4 885.9 C630.2 882.0 631.6 860.5 632.4 855.0 C633.3 849.6 634.7 846.4 635.5 844.8 C636.3 843.1 637.8 844.6 638.6 842.7 C639.4 840.8 640.9 831.2 641.7 830.4 C642.5 829.6 643.9 835.5 644.8 836.5 C645.6 837.6 647.0 839.4 647.8 838.6 C648.7 837.8 650.0 829.8 650.9 830.4 C651.9 830.9 653.9 839.6 655.0 842.7 C656.1 845.9 658.0 854.0 659.1 854.0 C660.2 854.0 662.3 847.0 663.3 842.7 C664.2 838.5 665.7 827.6 666.3 822.2 C667.0 816.7 667.7 804.6 668.4 801.6 C669.1 798.7 670.7 798.5 671.6 800.0 C672.4 801.4 673.8 810.1 674.7 812.3 C675.5 814.5 676.9 817.5 677.7 816.4 C678.6 815.3 680.0 808.4 680.8 804.1 C681.6 799.7 683.1 790.1 683.9 783.5 C684.7 777.0 686.2 761.6 687.0 754.8 C687.8 747.9 689.4 736.6 690.1 732.2 C690.7 727.7 691.4 721.4 692.1 721.5 C692.8 721.6 694.4 728.0 695.2 732.9 C696.0 737.7 697.5 752.8 698.3 757.9 C699.1 763.0 700.5 768.9 701.4 771.2 C702.2 773.5 703.6 775.3 704.4 775.3 C705.3 775.3 706.8 770.4 707.5 771.2 C708.2 772.0 709.0 786.3 709.6 781.5 C710.1 776.7 711.1 744.7 711.6 735.2 C712.2 725.7 713.0 712.9 713.7 710.1 C714.4 707.4 715.9 716.9 716.8 714.7 C717.6 712.4 719.0 697.8 719.8 693.3 C720.7 688.8 722.1 682.9 722.9 681.0 C723.7 679.1 725.2 677.8 726.0 678.9 C726.8 680.0 728.3 685.6 729.1 689.2 C729.9 692.8 731.3 700.4 732.2 705.6 C733.0 710.8 734.4 722.3 735.3 728.3 C736.1 734.4 737.5 745.7 738.3 751.1 C739.2 756.5 740.6 766.2 741.4 769.1 C742.2 772.1 743.5 771.3 744.5 773.3 C745.5 775.2 747.5 781.6 748.6 783.5 C749.7 785.4 751.8 790.1 752.7 787.6 C753.7 785.1 755.0 770.8 755.8 764.7 C756.6 758.7 758.1 745.6 758.9 742.0 C759.7 738.4 761.1 737.4 762.0 737.4 C762.8 737.4 764.1 740.2 765.0 742.0 C766.0 743.8 768.0 747.5 769.1 751.1 C770.2 754.7 772.2 765.1 773.3 769.1 C774.3 773.2 776.3 778.2 777.4 781.5 C778.5 784.8 780.5 787.0 781.5 793.8 C782.5 800.6 784.0 823.5 784.9 832.6 C785.9 841.6 787.8 852.9 788.7 861.5 C789.5 870.1 790.7 891.5 791.5 897.0 C792.2 902.5 793.4 901.7 794.3 902.6 C795.1 903.5 797.1 903.3 798.0 903.5 C798.9 903.8 800.1 903.3 800.8 904.5 C801.6 905.6 802.7 909.7 803.6 911.9 C804.5 914.2 806.4 919.0 807.3 921.3 C808.3 923.5 810.1 928.1 811.1 928.7 C812.1 929.4 813.8 925.7 814.8 925.9 C815.8 926.2 817.6 929.0 818.6 930.6 C819.5 932.2 821.3 936.1 822.3 938.1 C823.3 940.1 825.0 943.8 826.0 945.5 C827.0 947.3 828.8 950.0 829.8 951.1 C830.8 952.3 832.5 954.4 833.5 953.9 C834.5 953.4 836.4 948.5 837.2 947.4 C838.1 946.3 839.3 945.0 840.0 945.5 C840.8 946.0 842.0 949.1 842.8 951.1 C843.7 953.1 845.7 959.0 846.6 960.5 C847.4 962.0 848.6 962.8 849.4 962.3 C850.1 961.8 851.3 957.1 852.2 956.7 C853.0 956.4 854.9 959.2 855.9 959.5 C856.9 959.9 858.8 959.7 859.6 959.5 C860.5 959.4 861.7 961.5 862.4 958.6 C863.2 955.7 864.6 945.3 865.2 938.1 C865.9 930.8 866.6 910.7 867.1 904.5 C867.6 898.2 868.4 891.4 869.0 891.4 C869.6 891.4 871.0 900.2 871.8 904.5 C872.5 908.7 873.8 919.6 874.6 923.1 C875.3 926.6 876.6 932.3 877.4 930.6 C878.1 928.9 879.4 916.8 880.2 910.1 C880.9 903.3 882.4 883.9 883.0 880.2 C883.6 876.4 884.1 879.8 884.8 882.0 C885.6 884.3 887.9 895.2 888.6 897.0 C889.3 898.8 889.3 897.8 890.0 895.4 C890.7 893.0 893.0 882.0 894.1 879.0 C895.2 876.0 897.3 876.4 898.2 872.8 C899.2 869.3 900.3 857.5 901.3 852.3 C902.3 847.1 904.4 838.7 905.4 833.8 C906.4 828.9 907.8 820.6 908.5 815.3 C909.2 810.0 909.9 799.8 910.5 793.7 C911.2 787.7 912.8 771.5 913.6 770.1 C914.4 768.7 915.9 780.0 916.7 783.5 C917.5 786.9 919.1 793.9 919.8 795.8 C920.5 797.7 921.2 798.7 921.8 797.8 C922.5 797.0 924.1 791.0 924.9 789.6 C925.7 788.3 927.2 787.2 928.0 787.6 C928.8 788.0 930.3 794.6 931.1 792.7 C931.9 790.8 933.5 779.2 934.2 773.2 C934.9 767.2 935.5 752.2 936.2 747.6 C936.9 743.0 938.5 738.8 939.3 738.5 C940.1 738.2 941.6 743.8 942.4 745.3 C943.2 746.9 944.5 748.7 945.5 749.9 C946.4 751.1 948.6 756.0 949.6 754.4 C950.5 752.9 951.8 742.5 952.7 738.5 C953.5 734.6 955.1 726.7 955.7 724.9 C956.4 723.0 957.1 723.4 957.8 724.9 C958.5 726.4 960.0 733.8 960.9 736.2 C961.7 738.7 963.1 741.6 964.0 743.1 C964.8 744.6 966.3 747.9 967.0 747.6 C967.7 747.3 968.4 740.2 969.1 740.8 C969.8 741.4 971.2 748.8 972.2 752.2 C973.1 755.5 975.2 763.2 976.3 765.8 C977.4 768.5 979.4 772.8 980.4 772.2 C981.3 771.6 982.6 764.8 983.5 761.3 C984.3 757.7 985.9 747.6 986.5 745.3 C987.2 743.1 987.9 743.0 988.6 744.2 C989.3 745.4 990.9 751.3 991.7 754.4 C992.5 757.6 993.9 764.6 994.8 768.1 C995.6 771.5 997.1 776.3 997.8 780.4 C998.5 784.5 999.3 794.5 1000.0 798.5 C1000.7 802.6 1002.3 807.0 1003.1 810.9 C1003.9 814.7 1005.3 822.2 1006.2 827.3 C1007.0 832.4 1008.4 843.8 1009.2 848.9 C1010.1 853.9 1011.5 860.7 1012.3 865.3 C1013.1 870.0 1014.6 879.7 1015.4 883.8 C1016.2 887.9 1017.7 893.9 1018.5 896.1 C1019.3 898.3 1020.7 901.3 1021.6 900.2 C1022.4 899.1 1023.9 891.2 1024.7 887.9 C1025.4 884.6 1026.4 876.7 1027.1 875.6 C1027.8 874.5 1029.0 877.2 1029.8 879.7 C1030.6 882.2 1031.9 890.8 1032.9 894.1 C1033.8 897.4 1035.9 901.1 1037.0 904.3 C1038.1 907.6 1039.9 914.9 1041.1 918.7 C1042.3 922.6 1045.0 932.3 1046.2 933.1 C1047.5 933.9 1049.2 926.8 1050.3 924.9 C1051.4 923.0 1053.3 918.2 1054.4 918.7 C1055.5 919.3 1057.5 926.8 1058.5 929.0 C1059.6 931.2 1061.6 934.6 1062.7 935.2 C1063.7 935.7 1065.8 936.1 1066.8 933.1 C1067.7 930.1 1069.0 917.2 1069.8 912.6 C1070.7 907.9 1072.1 898.7 1072.9 898.2 C1073.7 897.6 1075.2 907.4 1076.0 908.4 C1076.8 909.5 1078.3 911.0 1079.1 906.4 C1079.9 901.7 1081.3 882.6 1082.2 873.5 C1083.0 864.5 1084.4 844.1 1085.3 838.6 C1086.1 833.1 1087.5 830.2 1088.3 832.4 C1089.2 834.6 1090.6 849.6 1091.4 855.0 C1092.2 860.5 1093.6 869.7 1094.5 873.5 C1095.4 877.4 1097.2 883.0 1098.2 883.8 C1099.2 884.6 1100.8 881.1 1101.7 879.7 C1102.6 878.3 1103.8 875.2 1104.8 873.5 C1105.7 871.9 1107.9 869.4 1108.9 867.4 C1109.8 865.3 1111.1 858.9 1112.0 858.1 C1112.8 857.3 1114.1 860.5 1115.0 861.2 C1116.0 861.9 1118.0 862.0 1119.1 863.3 C1120.2 864.5 1122.2 869.5 1123.3 870.4 C1124.3 871.4 1126.4 871.4 1127.4 870.4 C1128.3 869.5 1129.8 867.0 1130.4 863.3 C1131.1 859.6 1131.8 848.7 1132.5 842.7 C1133.2 836.7 1134.8 824.9 1135.6 818.1 C1136.3 811.2 1137.4 797.9 1138.0 791.4 C1138.7 784.8 1139.9 774.4 1140.7 768.8 C1141.5 763.1 1142.9 755.4 1143.8 749.2 C1144.7 743.1 1146.4 726.5 1147.3 722.4 C1148.1 718.3 1149.2 719.2 1149.9 718.4 C1150.6 717.6 1151.9 715.9 1152.6 716.5 C1153.3 717.0 1154.5 720.8 1155.2 722.4 C1155.9 723.9 1157.2 728.5 1157.9 728.3 C1158.6 728.0 1159.8 721.7 1160.6 720.4 C1161.3 719.1 1162.5 717.4 1163.2 718.4 C1163.9 719.5 1165.2 723.5 1165.9 728.3 C1166.6 733.0 1167.8 747.8 1168.5 753.8 C1169.3 759.7 1170.5 772.4 1171.2 772.9 C1171.9 773.4 1173.2 760.5 1173.9 757.7 C1174.6 754.9 1175.8 752.4 1176.5 751.8 C1177.2 751.3 1178.5 753.8 1179.2 753.8 C1179.9 753.8 1181.1 751.8 1181.8 751.8 C1182.6 751.8 1183.8 753.3 1184.5 753.8 C1185.2 754.3 1186.5 755.0 1187.2 755.8 C1187.9 756.5 1189.1 758.1 1189.8 759.7 C1190.5 761.3 1191.8 768.3 1192.5 767.5 C1193.2 766.8 1194.4 758.8 1195.2 753.8 C1195.9 748.8 1197.1 735.5 1197.8 730.2 C1198.5 725.0 1199.8 716.9 1200.5 714.5 C1201.2 712.1 1202.5 715.3 1203.1 712.5 C1203.7 709.8 1204.4 698.3 1204.9 694.2 C1205.5 690.1 1206.6 682.9 1207.2 681.7 C1207.8 680.6 1208.7 682.9 1209.3 685.3 C1210.0 687.7 1211.3 694.5 1212.0 699.5 C1212.7 704.4 1214.0 716.2 1214.7 722.4 C1215.4 728.6 1216.6 739.7 1217.3 745.9 C1218.0 752.2 1219.3 764.3 1220.0 769.3 C1220.7 774.4 1221.9 781.2 1222.6 783.5 C1223.4 785.9 1224.6 787.8 1225.3 787.1 C1226.0 786.4 1227.3 779.2 1228.0 778.2 C1228.7 777.3 1229.9 777.9 1230.6 780.0 C1231.3 782.1 1232.7 790.6 1233.3 794.2 C1233.9 797.7 1234.3 801.8 1234.9 806.7 C1235.6 811.5 1237.1 825.1 1238.1 830.5 C1239.0 835.9 1241.0 843.4 1242.1 847.1 C1243.1 850.8 1245.1 858.7 1246.0 858.3 C1247.0 857.8 1248.5 848.4 1249.2 844.0 C1249.9 839.5 1251.0 827.2 1251.6 824.9 C1252.2 822.6 1253.3 824.6 1254.0 826.5 C1254.6 828.4 1255.7 835.0 1256.3 839.2 C1257.0 843.4 1258.1 852.5 1258.7 858.3 C1259.4 864.0 1260.5 876.8 1261.1 882.1 C1261.7 887.4 1262.8 894.6 1263.5 897.9 C1264.2 901.3 1265.8 904.9 1266.7 907.5 C1267.5 910.0 1269.0 914.7 1269.8 917.0 C1270.7 919.3 1272.2 923.2 1273.0 924.9 C1273.9 926.6 1275.4 928.2 1276.2 929.7 C1276.9 931.2 1278.3 935.2 1278.6 936.0" fill="none" stroke="#f18f9c" stroke-width="4.3" stroke-linejoin="round" stroke-linecap="round"/>
<path d="M148.7 866.3 C149.3 867.5 152.1 875.1 153.3 875.6 C154.6 876.1 156.8 870.2 158.0 870.0 C159.3 869.9 161.7 877.2 162.7 874.7 C163.7 872.2 164.7 857.6 165.5 851.4 C166.3 845.1 167.7 829.5 168.6 828.0 C169.6 826.5 171.9 838.3 172.9 840.2 C174.0 842.0 175.3 840.3 176.7 842.0 C178.0 843.8 181.5 853.2 183.2 853.2 C185.0 853.2 188.3 842.9 189.7 842.0 C191.2 841.2 193.0 846.7 194.4 846.7 C195.8 846.7 198.8 845.1 200.0 842.0 C201.3 838.9 202.6 825.6 203.7 823.4 C204.9 821.1 207.0 827.5 208.4 825.2 C209.8 823.0 212.7 807.8 214.0 806.5 C215.3 805.3 217.1 817.1 218.1 815.9 C219.1 814.6 220.3 802.4 221.5 797.2 C222.7 792.0 225.7 780.5 227.1 776.7 C228.5 772.8 230.3 766.0 231.8 768.3 C233.2 770.5 236.4 786.6 238.3 793.5 C240.2 800.3 244.0 818.9 245.8 819.6 C247.5 820.4 250.1 807.3 251.4 799.1 C252.6 790.9 254.0 766.0 255.1 758.0 C256.2 750.0 258.6 740.6 259.8 739.3 C260.9 738.1 262.3 746.6 263.5 748.7 C264.7 750.8 267.7 754.2 269.1 755.2 C270.5 756.2 272.6 753.0 273.8 756.1 C274.9 759.3 276.1 769.7 277.5 778.5 C278.9 787.4 282.5 818.9 284.0 822.4 C285.5 825.9 286.6 809.8 288.7 804.7 C290.8 799.6 297.9 788.1 300.0 784.2 C302.1 780.4 303.1 777.8 304.2 775.8 C305.3 773.8 307.3 768.8 308.4 769.5 C309.5 770.2 311.4 779.5 312.6 781.1 C313.9 782.6 316.6 780.5 317.9 781.1 C319.2 781.6 321.0 783.2 322.1 785.3 C323.2 787.4 325.1 791.1 326.3 796.8 C327.6 802.6 330.0 820.7 331.6 828.4 C333.1 836.1 336.6 854.2 337.9 854.7 C339.2 855.3 340.2 837.0 341.1 832.6 C341.9 828.3 343.2 821.0 344.2 822.1 C345.2 823.2 347.2 834.6 348.4 841.1 C349.7 847.5 352.3 865.2 353.7 870.5 C355.1 875.9 357.7 880.5 358.9 881.1 C360.2 881.6 362.0 878.4 363.2 874.7 C364.3 871.1 366.4 857.1 367.4 853.7 C368.4 850.3 369.5 848.1 370.5 849.5 C371.5 850.9 373.5 859.7 374.7 864.2 C376.0 868.7 378.7 879.6 380.0 883.2 C381.3 886.7 383.1 892.8 384.2 890.5 C385.3 888.3 387.0 871.8 388.4 866.3 C389.8 860.8 393.3 850.0 394.7 849.5 C396.1 848.9 397.7 859.3 398.9 862.1 C400.2 864.9 402.8 868.3 404.2 870.5 C405.6 872.8 408.1 879.5 409.5 878.9 C410.9 878.4 413.6 869.5 414.7 866.3 C415.9 863.1 416.9 855.9 417.9 854.7 C418.9 853.6 421.1 859.2 422.1 857.9 C423.1 856.6 424.4 849.2 425.3 845.3 C426.1 841.3 427.4 831.2 428.4 828.4 C429.4 825.6 431.5 823.4 432.6 824.2 C433.8 825.1 435.7 833.9 436.8 834.7 C438.0 835.6 439.9 833.9 441.1 830.5 C442.2 827.2 444.3 816.5 445.3 809.5 C446.2 802.5 447.6 784.1 448.4 777.9 C449.2 771.7 450.2 767.6 451.2 763.2 C452.1 758.7 454.7 751.5 455.7 744.7 C456.7 737.9 457.9 718.5 458.8 712.2 C459.6 705.9 461.0 699.3 461.8 697.5 C462.7 695.7 464.0 696.3 464.9 698.5 C465.9 700.8 467.9 708.7 469.0 714.5 C470.1 720.4 472.0 734.3 473.1 742.3 C474.2 750.4 476.2 775.1 477.2 774.8 C478.3 774.5 480.4 748.7 481.4 740.0 C482.3 731.4 483.6 717.7 484.4 709.9 C485.3 702.0 486.8 687.1 487.5 681.1 C488.3 675.1 489.3 665.5 490.0 664.7 C490.7 663.8 491.9 670.8 492.7 674.9 C493.4 679.0 494.8 689.9 495.7 695.5 C496.7 701.1 498.9 714.6 499.8 716.8 C500.8 719.1 502.1 713.4 502.9 712.2 C503.7 711.0 505.0 706.7 506.0 707.8 C507.0 708.9 509.2 719.7 510.1 720.3 C511.1 720.9 512.2 714.4 513.2 712.2 C514.2 710.0 516.3 707.8 517.3 703.7 C518.3 699.5 519.6 686.6 520.4 681.1 C521.2 675.6 522.6 664.0 523.5 662.6 C524.3 661.2 525.6 666.2 526.5 670.8 C527.5 675.5 529.6 689.8 530.7 697.5 C531.8 705.2 533.7 720.0 534.8 728.4 C535.9 736.9 537.8 752.2 538.9 760.9 C540.0 769.6 542.1 785.2 543.1 793.4 C544.1 801.6 545.2 817.0 546.2 822.2 C547.1 827.4 549.2 829.7 550.3 832.4 C551.4 835.2 553.3 843.5 554.4 842.7 C555.5 841.9 557.5 829.0 558.5 826.3 C559.4 823.5 560.7 824.4 561.6 822.2 C562.4 820.0 564.0 813.1 564.7 809.8 C565.3 806.6 566.0 797.2 566.7 797.5 C567.4 797.8 569.0 809.4 569.8 811.9 C570.6 814.4 572.0 815.9 572.9 816.0 C573.7 816.1 575.0 811.6 575.9 812.9 C576.9 814.3 579.0 822.6 580.1 826.3 C581.2 830.0 583.1 840.4 584.2 840.7 C585.3 840.9 587.3 829.2 588.3 828.3 C589.2 827.5 590.4 835.0 591.4 834.5 C592.3 833.9 594.5 826.4 595.5 824.2 C596.4 822.0 597.7 817.2 598.5 818.1 C599.4 818.9 600.7 827.6 601.6 830.4 C602.6 833.1 604.5 836.7 605.7 838.6 C607.0 840.5 609.5 842.4 610.9 844.8 C612.2 847.1 614.6 857.0 616.0 856.1 C617.4 855.1 620.0 839.6 621.1 837.6 C622.2 835.5 623.4 838.7 624.2 840.7 C625.0 842.6 626.3 853.9 627.3 852.0 C628.3 850.0 630.6 830.5 631.4 826.3 C632.2 822.0 632.8 820.4 633.5 820.1 C634.2 819.8 635.6 824.8 636.5 824.2 C637.5 823.7 639.7 816.6 640.7 816.0 C641.6 815.5 642.9 819.3 643.7 820.1 C644.6 820.9 645.9 822.4 646.8 822.2 C647.8 821.9 650.0 817.5 650.9 818.1 C651.9 818.6 653.1 824.1 654.0 826.3 C655.0 828.5 657.0 834.8 658.1 834.5 C659.2 834.2 661.3 828.3 662.2 824.2 C663.2 820.1 664.5 808.3 665.3 803.7 C666.1 799.0 667.6 790.1 668.4 789.3 C669.2 788.5 670.7 795.4 671.6 797.9 C672.4 800.4 673.8 806.3 674.7 808.2 C675.5 810.1 676.9 813.1 677.7 812.3 C678.6 811.5 680.0 806.1 680.8 802.0 C681.6 797.9 683.1 788.0 683.9 781.5 C684.7 774.9 686.2 759.3 687.0 752.7 C687.8 746.1 689.4 735.4 690.1 732.2 C690.7 728.9 691.4 727.1 692.1 728.1 C692.8 729.1 694.4 734.8 695.2 739.7 C696.0 744.7 697.5 760.0 698.3 765.2 C699.1 770.5 700.5 776.7 701.4 779.1 C702.2 781.6 703.6 783.8 704.4 783.8 C705.3 783.8 706.8 778.3 707.5 779.1 C708.2 780.0 709.0 795.4 709.6 790.5 C710.1 785.5 711.1 751.9 711.6 742.0 C712.2 732.2 713.0 719.3 713.7 716.5 C714.4 713.7 715.9 723.5 716.8 721.2 C717.6 718.9 719.0 703.9 719.8 699.3 C720.7 694.7 722.1 688.9 722.9 687.0 C723.7 685.1 725.2 683.8 726.0 684.9 C726.8 686.0 728.3 691.6 729.1 695.2 C729.9 698.8 731.3 706.6 732.2 711.9 C733.0 717.2 734.4 728.9 735.3 735.1 C736.1 741.3 737.5 752.7 738.3 758.3 C739.2 763.8 740.6 773.7 741.4 776.8 C742.2 779.9 743.5 779.4 744.5 781.5 C745.5 783.6 747.5 790.5 748.6 792.5 C749.7 794.5 751.8 799.3 752.7 796.6 C753.7 793.9 755.0 778.5 755.8 772.2 C756.6 765.8 758.1 752.7 758.9 749.0 C759.7 745.3 761.1 744.4 762.0 744.4 C762.8 744.4 764.1 747.1 765.0 749.0 C766.0 750.8 768.0 754.6 769.1 758.3 C770.2 762.0 772.2 772.5 773.3 776.8 C774.3 781.1 776.3 787.0 777.4 790.5 C778.5 793.9 780.5 797.3 781.5 802.8 C782.5 808.3 784.0 824.0 784.9 831.6 C785.9 839.2 787.8 851.9 788.7 859.6 C789.5 867.4 790.7 884.5 791.5 889.5 C792.2 894.5 793.4 895.9 794.3 897.0 C795.1 898.1 797.1 898.2 798.0 897.9 C798.9 897.7 800.1 895.9 800.8 895.1 C801.6 894.4 802.9 892.3 803.6 892.3 C804.4 892.3 805.7 893.7 806.4 895.1 C807.2 896.5 808.3 901.0 809.2 902.6 C810.1 904.2 812.0 907.0 813.0 907.3 C813.9 907.5 815.7 903.6 816.7 904.5 C817.7 905.3 819.4 911.8 820.4 913.8 C821.4 915.8 823.2 918.3 824.2 919.4 C825.2 920.5 826.9 921.7 827.9 922.2 C828.9 922.7 830.8 922.8 831.6 923.1 C832.5 923.5 833.7 925.5 834.4 925.0 C835.2 924.5 836.5 921.4 837.2 919.4 C838.0 917.4 839.3 910.6 840.0 910.1 C840.8 909.6 842.0 913.9 842.8 915.7 C843.7 917.4 845.6 923.6 846.6 923.1 C847.6 922.6 849.4 913.0 850.3 911.9 C851.2 910.8 852.4 913.7 853.1 914.7 C853.8 915.7 855.0 918.4 855.9 919.4 C856.8 920.4 858.8 923.2 859.6 922.2 C860.5 921.2 861.8 917.3 862.4 911.9 C863.1 906.6 863.7 889.8 864.3 882.0 C864.9 874.3 866.5 858.0 867.1 854.0 C867.7 850.0 868.4 849.4 869.0 852.2 C869.6 854.9 871.0 869.1 871.8 874.6 C872.5 880.1 874.0 889.3 874.6 893.2 C875.2 897.2 875.9 904.7 876.4 904.5 C876.9 904.2 877.7 898.1 878.3 891.4 C878.9 884.7 880.5 860.3 881.1 854.0 C881.7 847.8 882.4 845.2 883.0 844.7 C883.6 844.2 884.9 848.1 885.8 850.3 C886.7 852.5 889.0 860.1 889.5 861.5 C890.1 862.9 889.4 861.7 890.0 860.5 C890.6 859.3 893.0 853.9 894.1 852.3 C895.2 850.6 897.3 850.9 898.2 848.2 C899.2 845.4 900.3 834.5 901.3 831.7 C902.3 829.0 904.4 830.1 905.4 827.6 C906.4 825.2 907.8 817.9 908.5 813.3 C909.2 808.6 909.9 798.2 910.5 792.7 C911.2 787.2 912.8 773.5 913.6 772.2 C914.4 770.8 915.9 779.4 916.7 782.4 C917.5 785.5 919.1 792.8 919.8 794.8 C920.5 796.7 921.2 797.6 921.8 796.8 C922.5 796.0 924.1 790.0 924.9 788.6 C925.7 787.2 927.2 786.1 928.0 786.5 C928.8 787.0 930.3 793.6 931.1 791.7 C931.9 789.8 933.5 777.1 934.2 772.2 C934.9 767.2 935.5 758.3 936.2 754.7 C936.9 751.2 938.5 745.8 939.3 745.5 C940.1 745.1 941.6 750.9 942.4 752.4 C943.2 754.0 944.5 755.8 945.5 757.0 C946.4 758.3 948.6 763.2 949.6 761.7 C950.5 760.1 951.8 749.5 952.7 745.5 C953.5 741.4 955.1 733.4 955.7 731.5 C956.4 729.7 957.1 730.0 957.8 731.5 C958.5 733.1 960.0 740.7 960.9 743.1 C961.7 745.6 963.1 748.5 964.0 750.1 C964.8 751.6 966.3 755.0 967.0 754.7 C967.7 754.4 968.4 747.2 969.1 747.8 C969.8 748.4 971.2 756.0 972.2 759.4 C973.1 762.8 975.2 770.5 976.3 773.3 C977.4 776.1 979.4 780.9 980.4 780.2 C981.3 779.6 982.6 772.4 983.5 768.6 C984.3 764.9 985.9 754.7 986.5 752.4 C987.2 750.1 987.9 750.0 988.6 751.2 C989.3 752.5 990.9 758.4 991.7 761.7 C992.5 764.9 993.9 771.9 994.8 775.6 C995.6 779.3 997.1 786.5 997.8 789.4 C998.5 792.3 999.3 794.8 1000.0 797.5 C1000.7 800.2 1002.3 806.0 1003.1 809.8 C1003.9 813.7 1005.3 821.3 1006.2 826.3 C1007.0 831.2 1008.4 841.9 1009.2 846.8 C1010.1 851.8 1011.5 858.9 1012.3 863.3 C1013.1 867.6 1014.6 875.9 1015.4 879.7 C1016.2 883.5 1017.7 889.5 1018.5 892.0 C1019.3 894.5 1020.8 899.3 1021.6 898.2 C1022.3 897.1 1023.6 887.6 1024.2 883.8 C1024.9 880.0 1026.0 870.8 1026.7 869.4 C1027.4 868.0 1029.0 870.8 1029.8 873.5 C1030.6 876.3 1032.0 887.5 1032.9 890.0 C1033.7 892.4 1035.1 890.4 1035.9 892.0 C1036.8 893.7 1038.2 900.1 1039.0 902.3 C1039.9 904.5 1041.2 906.9 1042.1 908.4 C1043.1 910.0 1045.3 913.9 1046.2 913.6 C1047.2 913.3 1048.5 909.5 1049.3 906.4 C1050.1 903.2 1051.7 892.7 1052.4 890.0 C1053.1 887.2 1053.8 885.0 1054.4 885.9 C1055.1 886.7 1056.7 893.9 1057.5 896.1 C1058.3 898.3 1059.8 902.0 1060.6 902.3 C1061.4 902.6 1062.9 898.9 1063.7 898.2 C1064.5 897.5 1065.9 900.7 1066.8 897.1 C1067.6 893.6 1069.1 877.2 1069.8 871.5 C1070.6 865.7 1071.6 854.8 1072.3 854.0 C1073.0 853.2 1074.3 863.3 1075.0 865.3 C1075.7 867.4 1077.0 871.9 1077.6 869.4 C1078.3 867.0 1079.4 853.7 1080.1 846.8 C1080.9 840.0 1082.4 824.1 1083.2 818.1 C1084.0 812.0 1085.2 801.6 1085.9 801.6 C1086.6 801.6 1087.6 813.7 1088.3 818.1 C1089.1 822.4 1090.6 830.4 1091.4 834.5 C1092.2 838.6 1093.7 846.1 1094.5 848.9 C1095.3 851.6 1096.6 855.2 1097.6 855.0 C1098.5 854.9 1100.7 849.5 1101.7 847.8 C1102.6 846.2 1103.9 843.9 1104.8 842.7 C1105.6 841.5 1107.0 840.0 1107.8 838.6 C1108.7 837.2 1110.1 832.4 1110.9 832.4 C1111.8 832.4 1113.2 837.4 1114.0 838.6 C1114.8 839.8 1116.3 841.7 1117.1 841.7 C1117.9 841.7 1119.4 838.2 1120.2 838.6 C1121.0 839.0 1122.5 844.5 1123.3 844.8 C1124.0 845.0 1125.0 840.5 1125.7 840.7 C1126.4 840.8 1127.6 847.7 1128.4 845.8 C1129.2 843.9 1130.6 831.3 1131.5 826.3 C1132.3 821.2 1133.7 813.3 1134.6 807.8 C1135.4 802.3 1136.8 790.7 1137.6 785.2 C1138.5 779.7 1139.9 771.6 1140.7 766.7 C1141.5 761.8 1142.9 753.2 1143.8 748.2 C1144.7 743.2 1146.4 732.1 1147.3 729.0 C1148.1 725.9 1149.2 725.8 1149.9 725.0 C1150.6 724.2 1151.9 722.4 1152.6 723.0 C1153.3 723.5 1154.5 727.4 1155.2 729.0 C1155.9 730.6 1157.2 735.3 1157.9 735.0 C1158.6 734.7 1159.8 728.3 1160.6 727.0 C1161.3 725.6 1162.5 723.9 1163.2 725.0 C1163.9 726.0 1165.2 730.2 1165.9 735.0 C1166.6 739.8 1167.8 754.9 1168.5 761.0 C1169.3 767.2 1170.5 780.5 1171.2 781.1 C1171.9 781.6 1173.2 768.0 1173.9 765.0 C1174.6 762.1 1175.8 759.6 1176.5 759.0 C1177.2 758.5 1178.5 761.0 1179.2 761.0 C1179.9 761.0 1181.1 759.0 1181.8 759.0 C1182.6 759.0 1183.8 760.5 1184.5 761.0 C1185.2 761.6 1186.5 762.2 1187.2 763.0 C1187.9 763.8 1189.1 765.4 1189.8 767.0 C1190.5 768.6 1191.8 775.8 1192.5 775.0 C1193.2 774.2 1194.4 766.1 1195.2 761.0 C1195.9 756.0 1197.1 742.3 1197.8 737.0 C1198.5 731.7 1199.8 723.4 1200.5 721.0 C1201.2 718.6 1202.5 721.7 1203.1 719.0 C1203.7 716.2 1204.4 704.3 1204.9 700.2 C1205.5 696.0 1206.6 688.9 1207.2 687.7 C1207.8 686.6 1208.7 688.9 1209.3 691.3 C1210.0 693.7 1211.3 700.5 1212.0 705.5 C1212.7 710.5 1214.0 722.6 1214.7 729.0 C1215.4 735.3 1216.6 746.6 1217.3 753.0 C1218.0 759.4 1219.3 771.8 1220.0 777.0 C1220.7 782.3 1221.9 790.0 1222.6 792.5 C1223.4 795.1 1224.6 796.8 1225.3 796.1 C1226.0 795.4 1227.3 788.0 1228.0 787.1 C1228.7 786.1 1229.9 786.8 1230.6 789.0 C1231.3 791.1 1232.7 800.9 1233.3 803.2 C1233.9 805.4 1234.3 802.3 1234.9 805.9 C1235.6 809.4 1237.1 824.4 1238.1 829.7 C1239.0 835.0 1241.0 842.0 1242.1 845.6 C1243.1 849.2 1245.1 857.1 1246.0 856.7 C1247.0 856.2 1248.5 846.8 1249.2 842.4 C1249.9 837.9 1251.0 825.7 1251.6 823.3 C1252.2 821.0 1253.3 823.0 1254.0 824.9 C1254.6 826.8 1255.7 833.4 1256.3 837.6 C1257.0 841.9 1258.1 851.8 1258.7 856.7 C1259.4 861.5 1260.5 871.0 1261.1 874.1 C1261.7 877.3 1262.8 879.0 1263.5 880.5 C1264.2 882.0 1265.8 883.8 1266.7 885.2 C1267.5 886.7 1269.0 889.7 1269.8 891.6 C1270.7 893.5 1272.2 897.8 1273.0 899.5 C1273.9 901.2 1275.3 903.2 1276.2 904.3 C1277.0 905.3 1278.9 907.0 1279.4 907.5" fill="none" stroke="#426dc6" stroke-width="4.3" stroke-linejoin="round" stroke-linecap="round"/>
<path d="M148.7 837.4 C149.3 838.0 152.1 841.8 153.3 842.0 C154.6 842.3 156.8 840.2 158.0 839.2 C159.3 838.2 161.7 837.2 162.7 834.6 C163.7 831.9 164.6 823.6 165.5 819.6 C166.3 815.6 168.2 805.3 169.2 804.7 C170.2 804.1 171.9 814.0 172.9 815.0 C173.9 815.9 175.3 811.2 176.7 812.2 C178.0 813.1 181.5 821.8 183.2 822.4 C185.0 823.0 188.3 817.3 189.7 816.8 C191.2 816.3 193.2 818.6 194.4 818.7 C195.7 818.8 197.8 820.0 199.1 817.8 C200.3 815.5 202.5 804.1 203.7 801.9 C205.0 799.6 207.0 802.6 208.4 800.9 C209.8 799.3 212.8 790.6 214.0 789.7 C215.3 788.9 216.8 795.9 217.8 794.4 C218.7 792.9 220.2 782.2 221.5 778.5 C222.7 774.9 225.7 769.6 227.1 767.3 C228.5 765.1 230.3 759.7 231.8 761.7 C233.2 763.7 236.4 776.8 238.3 782.3 C240.2 787.8 244.0 802.6 245.8 802.8 C247.5 803.1 250.1 790.9 251.4 784.1 C252.6 777.4 254.0 759.0 255.1 752.4 C256.2 745.8 258.6 735.8 259.8 734.7 C260.9 733.5 262.3 741.9 263.5 744.0 C264.7 746.1 267.7 749.5 269.1 750.5 C270.5 751.5 272.6 749.2 273.8 751.5 C274.9 753.7 276.1 760.2 277.5 767.3 C278.9 774.4 282.5 801.2 284.0 804.7 C285.5 808.2 286.6 796.9 288.7 793.5 C290.8 790.0 297.9 781.9 300.0 778.9 C302.1 776.0 303.1 773.3 304.2 771.6 C305.3 769.9 307.3 765.6 308.4 766.3 C309.5 767.0 311.4 775.2 312.6 776.8 C313.9 778.5 316.6 778.1 317.9 778.9 C319.2 779.8 321.0 781.3 322.1 783.2 C323.2 785.0 325.1 788.0 326.3 792.6 C327.6 797.3 330.2 812.3 331.6 817.9 C333.0 823.5 335.6 835.9 336.8 834.7 C338.1 833.6 340.1 813.7 341.1 809.5 C342.0 805.3 343.2 801.2 344.2 803.2 C345.2 805.1 347.0 819.4 348.4 824.2 C349.8 829.0 353.2 836.4 354.7 838.9 C356.3 841.5 358.7 844.6 360.0 843.2 C361.3 841.8 363.1 831.8 364.2 828.4 C365.3 825.1 367.3 818.5 368.4 817.9 C369.5 817.3 371.2 821.1 372.6 824.2 C374.0 827.3 377.4 837.7 378.9 841.1 C380.5 844.4 382.9 850.9 384.2 849.5 C385.5 848.1 387.2 834.7 388.4 830.5 C389.7 826.3 392.4 818.7 393.7 817.9 C394.9 817.1 396.6 822.2 397.9 824.2 C399.2 826.2 401.6 830.7 403.2 832.6 C404.7 834.6 407.9 838.9 409.5 838.9 C411.0 838.9 413.5 834.9 414.7 832.6 C416.0 830.4 417.8 823.2 418.9 822.1 C420.1 821.0 422.2 825.3 423.2 824.2 C424.1 823.1 425.3 815.9 426.3 813.7 C427.3 811.4 429.4 807.9 430.5 807.4 C431.6 806.8 433.6 810.0 434.7 809.5 C435.9 808.9 437.8 806.8 438.9 803.2 C440.1 799.5 442.0 787.7 443.2 782.1 C444.3 776.5 446.5 765.8 447.4 761.1 C448.2 756.3 448.8 748.1 449.5 746.6 C450.2 745.1 451.8 750.9 452.6 749.8 C453.4 748.8 454.9 744.4 455.7 738.9 C456.5 733.5 457.9 714.8 458.8 708.9 C459.6 703.0 461.0 696.3 461.8 694.5 C462.7 692.7 464.0 693.4 464.9 695.5 C465.9 697.7 467.9 705.5 469.0 711.0 C470.1 716.4 472.0 729.2 473.1 736.7 C474.2 744.2 476.2 767.6 477.2 767.3 C478.3 767.0 480.4 742.6 481.4 734.5 C482.3 726.5 483.6 714.4 484.4 706.8 C485.3 699.3 486.8 684.1 487.5 678.1 C488.3 672.1 489.3 662.5 490.0 661.7 C490.7 660.8 491.9 667.8 492.7 671.9 C493.4 676.0 494.8 687.0 495.7 692.5 C496.7 697.9 498.9 710.8 499.8 713.0 C500.8 715.2 502.1 710.0 502.9 708.9 C503.7 707.8 505.0 703.8 506.0 704.8 C507.0 705.7 509.2 715.5 510.1 716.1 C511.1 716.6 512.2 711.0 513.2 708.9 C514.2 706.8 516.3 704.8 517.3 700.7 C518.3 696.6 519.6 683.6 520.4 678.1 C521.2 672.6 522.6 661.0 523.5 659.6 C524.3 658.2 525.6 663.2 526.5 667.8 C527.5 672.5 529.6 687.1 530.7 694.5 C531.8 702.0 533.7 715.6 534.8 723.6 C535.9 731.6 537.8 745.7 538.9 754.2 C540.0 762.7 542.1 780.1 543.1 787.2 C544.1 794.4 545.2 804.5 546.2 807.8 C547.1 811.1 549.3 810.3 550.3 811.9 C551.2 813.5 552.4 821.5 553.4 820.1 C554.3 818.7 556.5 803.5 557.5 801.6 C558.4 799.7 559.7 806.7 560.5 805.7 C561.4 804.8 562.9 796.9 563.6 794.4 C564.3 792.0 565.0 786.8 565.7 787.2 C566.4 787.7 567.9 795.3 568.8 797.5 C569.6 799.7 571.0 803.7 571.8 803.7 C572.7 803.7 574.1 797.5 574.9 797.5 C575.7 797.5 577.0 801.9 578.0 803.7 C579.0 805.5 581.0 811.0 582.1 810.9 C583.2 810.7 585.1 803.1 586.2 802.7 C587.3 802.2 589.2 807.8 590.3 807.8 C591.4 807.8 593.5 803.6 594.4 802.7 C595.4 801.7 596.6 799.9 597.5 800.6 C598.5 801.3 600.5 806.4 601.6 807.8 C602.7 809.2 604.5 809.5 605.7 810.9 C607.0 812.2 609.5 816.4 610.9 818.1 C612.2 819.7 614.8 824.0 616.0 823.2 C617.2 822.4 619.2 812.9 620.1 811.9 C621.1 810.9 622.4 814.9 623.2 816.0 C624.0 817.1 625.3 821.5 626.3 820.1 C627.2 818.7 629.4 808.2 630.4 805.7 C631.3 803.3 632.6 802.2 633.5 801.6 C634.3 801.1 635.6 802.6 636.5 801.6 C637.5 800.7 639.7 794.8 640.7 794.4 C641.6 794.0 642.9 797.7 643.7 798.5 C644.6 799.4 645.9 800.6 646.8 800.6 C647.8 800.6 650.0 798.0 650.9 798.5 C651.9 799.1 653.1 803.2 654.0 804.7 C655.0 806.2 657.0 810.8 658.1 809.8 C659.2 808.9 661.3 800.9 662.2 797.5 C663.2 794.1 664.5 786.5 665.3 784.2 C666.1 781.8 667.6 780.1 668.4 780.1 C669.2 780.0 670.7 782.0 671.6 783.5 C672.4 785.1 673.8 790.1 674.7 791.7 C675.5 793.4 676.9 796.7 677.7 795.9 C678.6 795.0 680.0 789.4 680.8 785.6 C681.6 781.7 683.1 772.6 683.9 767.1 C684.7 761.6 686.2 749.6 687.0 744.5 C687.8 739.4 689.4 731.9 690.1 729.1 C690.7 726.3 691.4 722.6 692.1 723.3 C692.8 724.0 694.4 729.6 695.2 734.2 C696.0 738.9 697.5 753.4 698.3 758.3 C699.1 763.2 700.5 768.9 701.4 771.2 C702.2 773.5 703.6 775.3 704.4 775.3 C705.3 775.3 706.8 770.4 707.5 771.2 C708.2 772.0 709.0 786.1 709.6 781.5 C710.1 776.8 711.1 745.6 711.6 736.4 C712.2 727.3 713.0 715.3 713.7 712.7 C714.4 710.1 715.9 719.0 716.8 716.8 C717.6 714.7 719.0 700.7 719.8 696.3 C720.7 691.9 722.1 685.9 722.9 684.0 C723.7 682.1 725.2 680.8 726.0 681.9 C726.8 683.0 728.3 688.6 729.1 692.2 C729.9 695.8 731.3 703.6 732.2 708.6 C733.0 713.7 734.4 724.1 735.3 729.9 C736.1 735.6 737.5 746.5 738.3 751.7 C739.2 757.0 740.6 766.3 741.4 769.1 C742.2 772.0 743.5 771.3 744.5 773.3 C745.5 775.2 747.5 781.6 748.6 783.5 C749.7 785.4 751.8 790.1 752.7 787.6 C753.7 785.1 755.0 770.8 755.8 764.9 C756.6 758.9 758.1 746.5 758.9 743.0 C759.7 739.5 761.1 738.6 762.0 738.6 C762.8 738.6 764.1 741.2 765.0 743.0 C766.0 744.7 768.0 748.3 769.1 751.7 C770.2 755.2 772.2 765.2 773.3 769.1 C774.3 773.1 776.3 778.2 777.4 781.5 C778.5 784.8 780.5 788.1 781.5 793.8 C782.5 799.5 784.0 817.4 784.9 824.2 C785.9 830.9 787.7 840.5 788.7 844.7 C789.7 848.9 791.4 852.9 792.4 855.9 C793.4 858.9 795.1 864.6 796.1 867.1 C797.1 869.6 798.9 873.3 799.9 874.6 C800.9 875.8 802.6 875.6 803.6 876.4 C804.6 877.3 806.4 879.9 807.3 881.1 C808.3 882.4 810.1 885.0 811.1 885.8 C812.1 886.5 813.8 886.2 814.8 886.7 C815.8 887.2 817.6 888.6 818.6 889.5 C819.5 890.4 821.3 892.5 822.3 893.2 C823.3 894.0 825.0 894.7 826.0 895.1 C827.0 895.5 828.8 896.8 829.8 896.1 C830.8 895.3 832.6 891.1 833.5 889.5 C834.4 887.9 835.4 884.4 836.3 883.9 C837.2 883.4 839.2 884.8 840.0 885.8 C840.9 886.8 842.0 890.5 842.8 891.4 C843.7 892.3 845.7 893.1 846.6 892.3 C847.4 891.6 848.6 886.9 849.4 885.8 C850.1 884.7 851.3 883.2 852.2 883.9 C853.0 884.7 855.0 890.4 855.9 891.4 C856.8 892.4 858.0 893.1 858.7 891.4 C859.4 889.6 860.8 883.5 861.5 878.3 C862.3 873.1 863.6 859.4 864.3 852.2 C865.1 844.9 866.5 828.1 867.1 824.2 C867.7 820.2 868.4 820.0 869.0 822.3 C869.6 824.5 870.9 836.7 871.8 841.0 C872.6 845.2 874.6 854.5 875.5 854.0 C876.4 853.5 877.6 841.7 878.3 837.2 C879.1 832.7 880.4 822.9 881.1 820.4 C881.9 817.9 883.0 818.3 883.9 818.6 C884.8 818.8 886.8 822.4 887.6 822.3 C888.5 822.1 889.1 817.9 890.0 817.4 C890.9 816.8 893.0 818.7 894.1 818.4 C895.2 818.1 897.3 817.4 898.2 815.3 C899.2 813.3 900.5 805.2 901.3 803.0 C902.1 800.8 903.6 801.1 904.4 798.9 C905.2 796.7 906.6 790.1 907.5 786.5 C908.3 783.0 909.8 776.6 910.5 772.2 C911.3 767.8 912.3 755.2 913.0 753.7 C913.7 752.2 914.9 757.3 915.7 760.9 C916.4 764.4 917.9 777.0 918.8 780.4 C919.6 783.8 921.0 786.5 921.8 786.5 C922.7 786.5 924.1 781.5 924.9 780.4 C925.7 779.3 927.2 777.6 928.0 778.3 C928.8 779.0 930.3 786.9 931.1 785.5 C931.9 784.2 933.5 773.0 934.2 768.1 C934.9 763.1 935.5 752.2 936.2 748.4 C936.9 744.6 938.5 739.9 939.3 739.7 C940.1 739.4 941.6 744.8 942.4 746.2 C943.2 747.7 944.5 749.4 945.5 750.6 C946.4 751.8 948.6 756.4 949.6 755.0 C950.5 753.5 951.8 743.4 952.7 739.7 C953.5 735.9 955.1 728.3 955.7 726.5 C956.4 724.8 957.1 725.1 957.8 726.5 C958.5 728.0 960.0 735.1 960.9 737.5 C961.7 739.8 963.1 742.6 964.0 744.0 C964.8 745.5 966.3 748.7 967.0 748.4 C967.7 748.1 968.4 741.3 969.1 741.8 C969.8 742.4 971.2 749.6 972.2 752.8 C973.1 756.0 975.2 763.3 976.3 765.9 C977.4 768.5 979.4 772.8 980.4 772.2 C981.3 771.6 982.6 765.0 983.5 761.5 C984.3 758.1 985.9 748.4 986.5 746.2 C987.2 744.0 987.9 744.0 988.6 745.1 C989.3 746.3 990.9 751.9 991.7 755.0 C992.5 758.0 993.9 764.7 994.8 768.1 C995.6 771.5 997.1 777.3 997.8 780.4 C998.5 783.5 999.3 788.2 1000.0 791.4 C1000.7 794.5 1002.3 800.1 1003.1 803.7 C1003.9 807.2 1005.3 814.0 1006.2 818.1 C1007.0 822.2 1008.4 830.9 1009.2 834.5 C1010.1 838.1 1011.4 842.0 1012.3 844.8 C1013.3 847.5 1015.3 852.8 1016.4 855.0 C1017.5 857.2 1019.6 861.7 1020.5 861.2 C1021.5 860.7 1022.8 853.7 1023.6 850.9 C1024.4 848.2 1025.9 841.2 1026.7 840.7 C1027.5 840.1 1028.8 845.3 1029.8 846.8 C1030.7 848.3 1032.8 850.6 1033.9 852.0 C1035.0 853.3 1036.9 855.7 1038.0 857.1 C1039.1 858.5 1041.0 861.3 1042.1 862.2 C1043.2 863.2 1045.3 864.4 1046.2 864.3 C1047.2 864.1 1048.5 863.5 1049.3 861.2 C1050.1 858.9 1051.7 849.3 1052.4 846.8 C1053.1 844.4 1053.8 842.2 1054.4 842.7 C1055.1 843.3 1056.7 849.6 1057.5 850.9 C1058.3 852.3 1059.8 852.8 1060.6 853.0 C1061.4 853.1 1062.9 852.8 1063.7 852.0 C1064.5 851.1 1065.9 849.4 1066.8 846.8 C1067.6 844.2 1069.1 835.7 1069.8 832.4 C1070.6 829.2 1071.6 822.7 1072.3 822.2 C1073.0 821.6 1074.3 827.8 1075.0 828.3 C1075.7 828.9 1077.0 829.0 1077.6 826.3 C1078.3 823.5 1079.5 812.7 1080.1 807.8 C1080.7 802.9 1081.6 792.6 1082.2 789.3 C1082.8 786.0 1083.9 782.0 1084.6 783.1 C1085.3 784.2 1086.5 794.2 1087.3 797.5 C1088.1 800.8 1089.6 805.3 1090.4 807.8 C1091.2 810.3 1092.6 814.4 1093.5 816.0 C1094.3 817.6 1095.6 820.1 1096.5 820.1 C1097.5 820.1 1099.7 817.4 1100.7 816.0 C1101.6 814.6 1102.9 810.9 1103.7 809.8 C1104.6 808.7 1106.0 808.6 1106.8 807.8 C1107.6 807.0 1109.1 804.0 1109.9 803.7 C1110.7 803.4 1112.0 805.1 1113.0 805.7 C1113.9 806.4 1116.0 808.3 1117.1 808.8 C1118.2 809.4 1120.1 809.6 1121.2 809.8 C1122.3 810.1 1124.3 810.6 1125.3 810.9 C1126.3 811.1 1127.6 812.9 1128.4 811.9 C1129.2 810.9 1130.6 807.2 1131.5 803.7 C1132.3 800.1 1133.7 790.4 1134.6 785.2 C1135.4 780.0 1136.8 768.5 1137.6 764.7 C1138.5 760.8 1139.9 759.2 1140.7 756.4 C1141.5 753.7 1142.9 748.4 1143.8 744.1 C1144.7 739.8 1146.4 727.3 1147.3 724.1 C1148.1 721.0 1149.2 721.1 1149.9 720.3 C1150.6 719.6 1151.9 718.0 1152.6 718.5 C1153.3 719.0 1154.5 722.6 1155.2 724.1 C1155.9 725.6 1157.2 730.0 1157.9 729.8 C1158.6 729.5 1159.8 723.5 1160.6 722.2 C1161.3 721.0 1162.5 719.3 1163.2 720.3 C1163.9 721.4 1165.2 725.3 1165.9 729.8 C1166.6 734.3 1167.8 748.6 1168.5 754.3 C1169.3 760.1 1170.5 772.4 1171.2 772.9 C1171.9 773.4 1173.2 760.8 1173.9 758.1 C1174.6 755.4 1175.8 753.0 1176.5 752.5 C1177.2 751.9 1178.5 754.3 1179.2 754.3 C1179.9 754.3 1181.1 752.5 1181.8 752.5 C1182.6 752.5 1183.8 753.8 1184.5 754.3 C1185.2 754.8 1186.5 755.5 1187.2 756.2 C1187.9 757.0 1189.1 758.5 1189.8 760.0 C1190.5 761.5 1191.8 768.3 1192.5 767.6 C1193.2 766.8 1194.4 759.1 1195.2 754.3 C1195.9 749.6 1197.1 736.7 1197.8 731.7 C1198.5 726.7 1199.8 718.9 1200.5 716.7 C1201.2 714.4 1202.5 717.5 1203.1 714.9 C1203.7 712.3 1204.4 701.2 1204.9 697.2 C1205.5 693.1 1206.6 685.9 1207.2 684.7 C1207.8 683.6 1208.7 685.9 1209.3 688.3 C1210.0 690.7 1211.3 697.7 1212.0 702.5 C1212.7 707.3 1214.0 718.2 1214.7 724.1 C1215.4 730.0 1216.6 740.8 1217.3 746.8 C1218.0 752.8 1219.3 764.4 1220.0 769.3 C1220.7 774.2 1221.9 781.2 1222.6 783.5 C1223.4 785.9 1224.6 787.8 1225.3 787.1 C1226.0 786.4 1227.3 779.2 1228.0 778.2 C1228.7 777.3 1229.9 777.9 1230.6 780.0 C1231.3 782.1 1232.7 790.9 1233.3 794.2 C1233.9 797.4 1234.3 800.6 1234.9 804.3 C1235.6 808.0 1237.1 817.3 1238.1 821.7 C1239.0 826.2 1241.1 834.7 1242.1 837.6 C1243.0 840.6 1244.4 845.0 1245.2 844.0 C1246.1 842.9 1247.7 833.9 1248.4 829.7 C1249.2 825.4 1250.1 814.8 1250.8 812.2 C1251.5 809.7 1253.1 809.4 1254.0 810.6 C1254.8 811.9 1256.3 818.4 1257.1 821.7 C1258.0 825.1 1259.5 833.5 1260.3 836.0 C1261.2 838.6 1262.6 839.5 1263.5 840.8 C1264.3 842.1 1265.6 844.3 1266.7 845.6 C1267.7 846.8 1270.2 849.0 1271.4 850.3 C1272.7 851.6 1275.1 854.0 1276.2 855.1 C1277.2 856.1 1278.9 857.8 1279.4 858.3" fill="none" stroke="#fdbf7e" stroke-width="4.3" stroke-linejoin="round" stroke-linecap="round"/>
<path d="M148.7 805.6 C149.3 806.1 152.1 808.5 153.3 809.4 C154.6 810.2 156.8 811.2 158.0 812.2 C159.3 813.1 161.8 818.3 162.7 816.8 C163.5 815.3 164.0 805.8 164.5 800.9 C165.0 796.1 165.9 783.0 166.4 780.4 C166.9 777.8 167.8 780.1 168.3 781.3 C168.8 782.6 169.4 788.0 170.1 789.7 C170.9 791.5 173.0 794.3 173.9 794.4 C174.7 794.5 175.8 790.3 176.7 790.7 C177.5 791.1 179.4 795.8 180.4 797.2 C181.4 798.6 183.1 801.3 184.1 800.9 C185.1 800.6 186.9 795.5 187.9 794.4 C188.9 793.3 190.6 792.5 191.6 792.5 C192.6 792.5 194.4 794.8 195.3 794.4 C196.3 794.0 198.2 791.9 199.1 789.7 C200.0 787.6 201.1 779.3 201.9 778.5 C202.6 777.8 203.8 784.5 204.7 784.1 C205.6 783.8 207.5 778.0 208.4 775.7 C209.3 773.5 210.5 767.7 211.2 767.3 C212.0 767.0 213.3 771.7 214.0 772.9 C214.8 774.2 216.1 778.3 216.8 776.7 C217.6 775.1 218.7 762.4 219.6 760.8 C220.5 759.2 222.4 764.7 223.4 764.5 C224.3 764.4 226.0 760.7 227.1 759.9 C228.2 759.0 230.6 757.6 231.8 758.0 C232.9 758.4 234.4 760.4 235.5 762.7 C236.6 764.9 238.9 771.8 240.2 774.8 C241.4 777.8 243.8 785.1 244.8 785.1 C245.8 785.1 246.8 777.2 247.6 774.8 C248.5 772.4 250.4 771.1 251.4 767.3 C252.4 763.6 254.0 751.0 255.1 746.8 C256.2 742.6 258.6 735.7 259.8 735.6 C260.9 735.5 262.3 743.6 263.5 745.9 C264.7 748.1 267.7 751.4 269.1 752.4 C270.5 753.4 272.6 751.3 273.8 753.3 C274.9 755.3 276.5 762.5 277.5 767.3 C278.5 772.2 280.2 787.3 281.2 789.7 C282.2 792.2 284.0 787.4 285.0 786.0 C286.0 784.6 286.7 781.0 288.7 779.5 C290.7 778.0 297.9 776.1 300.0 774.7 C302.1 773.4 303.1 770.7 304.2 769.5 C305.3 768.2 307.3 764.4 308.4 765.3 C309.5 766.1 311.4 774.1 312.6 775.8 C313.9 777.5 316.6 777.1 317.9 777.9 C319.2 778.7 321.0 780.4 322.1 782.1 C323.2 783.8 325.1 786.9 326.3 790.5 C327.6 794.2 330.2 805.7 331.6 809.5 C333.0 813.3 335.7 821.2 336.8 818.9 C338.0 816.7 339.3 798.0 340.0 792.6 C340.7 787.3 341.4 778.7 342.1 778.9 C342.8 779.2 344.1 790.7 345.3 794.7 C346.4 798.8 349.1 806.8 350.5 809.5 C351.9 812.1 354.4 814.6 355.8 814.7 C357.2 814.9 359.8 813.2 361.1 810.5 C362.3 807.9 364.3 797.3 365.3 794.7 C366.2 792.2 367.4 790.7 368.4 791.6 C369.4 792.4 371.4 797.5 372.6 801.1 C373.9 804.6 376.4 815.2 377.9 817.9 C379.4 820.6 382.9 823.0 384.2 821.1 C385.5 819.1 386.2 806.8 387.4 803.2 C388.5 799.5 391.4 794.0 392.6 793.7 C393.9 793.4 395.4 799.6 396.8 801.1 C398.2 802.5 401.6 802.9 403.2 804.2 C404.7 805.5 407.0 809.8 408.4 810.5 C409.8 811.2 412.4 810.6 413.7 809.5 C414.9 808.4 416.8 802.9 417.9 802.1 C419.0 801.3 421.0 805.0 422.1 803.2 C423.2 801.3 425.2 791.8 426.3 788.4 C427.4 785.1 429.4 777.8 430.5 777.9 C431.6 778.0 433.6 788.5 434.7 789.5 C435.9 790.5 437.8 788.2 438.9 785.3 C440.1 782.3 442.0 771.7 443.2 767.4 C444.3 763.0 446.5 755.2 447.4 752.6 C448.2 750.0 448.8 748.1 449.5 747.8 C450.2 747.6 451.8 751.9 452.6 750.9 C453.4 750.0 454.9 745.9 455.7 740.7 C456.5 735.5 457.9 717.6 458.8 711.9 C459.6 706.1 461.0 699.3 461.8 697.5 C462.7 695.7 464.0 696.4 464.9 698.5 C465.9 700.7 467.9 708.6 469.0 714.0 C470.1 719.3 472.0 731.5 473.1 738.6 C474.2 745.7 476.2 767.6 477.2 767.4 C478.3 767.1 480.4 744.2 481.4 736.5 C482.3 728.9 483.6 717.2 484.4 709.8 C485.3 702.4 486.8 687.1 487.5 681.1 C488.3 675.1 489.3 665.5 490.0 664.7 C490.7 663.8 491.9 670.8 492.7 674.9 C493.4 679.0 494.8 690.0 495.7 695.5 C496.7 700.9 498.9 713.8 499.8 716.0 C500.8 718.2 502.1 713.0 502.9 711.9 C503.7 710.8 505.0 706.8 506.0 707.8 C507.0 708.7 509.2 718.5 510.1 719.1 C511.1 719.6 512.2 714.0 513.2 711.9 C514.2 709.8 516.3 707.8 517.3 703.7 C518.3 699.6 519.6 686.6 520.4 681.1 C521.2 675.6 522.6 664.0 523.5 662.6 C524.3 661.2 525.6 666.2 526.5 670.8 C527.5 675.5 529.6 690.1 530.7 697.5 C531.8 704.9 533.7 718.6 534.8 726.3 C535.9 733.9 537.9 748.5 538.9 755.0 C539.8 761.6 541.4 772.1 542.0 775.6 C542.5 779.1 542.5 779.0 543.1 781.1 C543.6 783.2 545.3 789.4 546.2 791.4 C547.0 793.3 548.6 795.3 549.2 795.5 C549.9 795.6 550.6 791.8 551.3 792.4 C552.0 792.9 553.4 801.5 554.4 799.6 C555.3 797.7 557.5 779.9 558.5 778.0 C559.4 776.1 560.7 786.4 561.6 785.2 C562.4 784.0 564.2 770.0 565.1 768.8 C565.9 767.5 567.0 773.3 567.7 775.9 C568.4 778.6 569.7 789.0 570.4 788.3 C571.1 787.6 572.1 771.8 572.9 770.8 C573.6 769.9 575.1 778.6 575.9 781.1 C576.8 783.5 578.2 787.8 579.0 789.3 C579.9 790.8 581.2 793.1 582.1 792.4 C583.1 791.7 585.3 784.4 586.2 784.2 C587.2 783.9 588.5 790.3 589.3 790.3 C590.1 790.3 591.6 785.7 592.4 784.2 C593.2 782.7 594.5 778.5 595.5 779.0 C596.4 779.6 598.5 786.6 599.6 788.3 C600.7 789.9 602.6 790.7 603.7 791.4 C604.8 792.0 606.7 792.6 607.8 793.4 C608.9 794.2 610.9 796.6 611.9 797.5 C612.9 798.5 614.0 802.4 615.0 800.6 C615.9 798.8 618.1 785.4 619.1 784.2 C620.0 782.9 621.2 789.4 622.2 791.4 C623.1 793.3 625.3 799.1 626.3 798.5 C627.2 798.0 628.7 790.3 629.4 787.2 C630.0 784.2 630.7 776.4 631.4 775.9 C632.1 775.5 633.7 782.8 634.5 784.2 C635.3 785.5 636.8 786.9 637.6 786.2 C638.4 785.5 639.8 779.3 640.7 779.0 C641.5 778.8 642.9 783.1 643.7 784.2 C644.6 785.3 646.0 787.2 646.8 787.2 C647.6 787.2 648.9 783.6 649.9 784.2 C650.9 784.7 652.9 790.0 654.0 791.4 C655.1 792.7 657.0 795.8 658.1 794.4 C659.2 793.1 661.3 785.6 662.2 781.1 C663.2 776.6 664.6 763.4 665.3 760.5 C666.0 757.7 666.8 758.8 667.5 759.9 C668.2 761.0 669.7 766.3 670.5 769.1 C671.4 772.0 672.8 779.0 673.6 781.5 C674.4 783.9 675.7 788.2 676.7 787.6 C677.7 787.1 679.9 780.9 680.8 777.4 C681.8 773.8 683.1 765.9 683.9 760.9 C684.7 756.0 686.2 744.8 687.0 740.4 C687.8 736.0 689.4 730.0 690.1 728.1 C690.7 726.1 691.4 724.9 692.1 726.0 C692.8 727.1 694.4 731.9 695.2 736.3 C696.0 740.7 697.5 754.2 698.3 758.9 C699.1 763.5 700.5 769.0 701.4 771.2 C702.2 773.4 703.6 775.3 704.4 775.3 C705.3 775.3 706.8 770.4 707.5 771.2 C708.2 772.0 709.0 785.9 709.6 781.5 C710.1 777.1 711.1 747.1 711.6 738.3 C712.2 729.6 713.0 718.2 713.7 715.7 C714.4 713.3 715.9 722.0 716.8 719.8 C717.6 717.7 719.0 703.7 719.8 699.3 C720.7 694.9 722.1 688.9 722.9 687.0 C723.7 685.1 725.2 683.8 726.0 684.9 C726.8 686.0 728.3 691.6 729.1 695.2 C729.9 698.8 731.3 706.7 732.2 711.6 C733.0 716.6 734.4 726.7 735.3 732.2 C736.1 737.6 737.5 747.8 738.3 752.7 C739.2 757.6 740.6 766.4 741.4 769.1 C742.2 771.9 743.5 771.3 744.5 773.3 C745.5 775.2 747.5 781.6 748.6 783.5 C749.7 785.4 751.8 790.1 752.7 787.6 C753.7 785.2 755.0 770.8 755.8 765.0 C756.6 759.3 758.1 747.8 758.9 744.5 C759.7 741.2 761.1 740.4 762.0 740.4 C762.8 740.4 764.1 742.9 765.0 744.5 C766.0 746.1 768.0 749.4 769.1 752.7 C770.2 756.0 772.2 765.3 773.3 769.1 C774.3 773.0 776.3 778.2 777.4 781.5 C778.5 784.8 780.5 789.4 781.5 793.8 C782.4 798.2 783.7 809.1 784.6 814.3 C785.4 819.5 787.1 829.5 787.6 832.8 C788.2 836.1 788.0 837.8 788.7 839.1 C789.3 840.4 791.4 842.3 792.4 842.8 C793.4 843.3 795.1 843.6 796.1 842.8 C797.1 842.1 799.0 839.0 799.9 837.2 C800.8 835.5 801.9 830.9 802.7 829.8 C803.4 828.6 804.6 828.3 805.5 828.8 C806.4 829.3 808.3 832.4 809.2 833.5 C810.1 834.6 811.3 837.0 812.0 837.2 C812.8 837.5 813.9 834.9 814.8 835.4 C815.7 835.9 817.6 839.7 818.6 841.0 C819.5 842.2 821.3 843.8 822.3 844.7 C823.3 845.6 825.0 847.1 826.0 847.5 C827.0 847.9 828.8 847.2 829.8 847.5 C830.8 847.7 832.6 849.5 833.5 849.4 C834.4 849.2 835.5 848.2 836.3 846.6 C837.0 844.9 838.3 838.6 839.1 837.2 C839.8 835.9 841.1 835.5 841.9 836.3 C842.6 837.0 843.9 841.8 844.7 842.8 C845.4 843.8 846.8 844.8 847.5 843.8 C848.2 842.8 849.6 836.2 850.3 835.4 C851.0 834.5 852.4 836.5 853.1 837.2 C853.8 838.0 855.2 840.2 855.9 841.0 C856.6 841.7 858.0 843.3 858.7 842.8 C859.4 842.3 860.9 840.7 861.5 837.2 C862.1 833.7 862.9 822.9 863.4 816.7 C863.9 810.5 864.7 794.5 865.2 790.5 C865.7 786.6 866.5 785.3 867.1 786.8 C867.7 788.3 869.2 797.5 869.9 801.7 C870.7 806.0 872.0 814.8 872.7 818.6 C873.5 822.3 874.8 831.3 875.5 829.8 C876.3 828.3 877.6 813.1 878.3 807.3 C879.1 801.6 880.4 789.0 881.1 786.8 C881.9 784.6 883.0 788.7 883.9 790.5 C884.8 792.4 886.8 799.7 887.6 800.8 C888.5 801.9 889.1 800.0 890.0 798.9 C890.9 797.8 893.1 794.1 894.1 792.7 C895.1 791.3 896.4 789.8 897.2 788.6 C898.0 787.4 899.4 783.7 900.3 783.5 C901.1 783.2 902.5 785.6 903.4 786.5 C904.2 787.5 905.6 793.4 906.4 790.7 C907.3 787.9 908.7 771.5 909.5 766.0 C910.3 760.5 911.8 750.7 912.6 749.6 C913.4 748.5 914.9 754.2 915.7 757.8 C916.5 761.4 917.9 773.3 918.8 776.3 C919.6 779.3 921.0 780.4 921.8 780.4 C922.7 780.4 924.2 777.4 924.9 776.3 C925.6 775.2 926.3 771.3 927.0 772.2 C927.7 773.0 929.2 783.3 930.1 782.4 C930.9 781.6 932.3 770.4 933.1 766.0 C934.0 761.6 935.4 752.9 936.2 749.6 C937.0 746.3 938.5 741.6 939.3 741.4 C940.1 741.1 941.6 746.1 942.4 747.5 C943.2 748.9 944.5 750.5 945.5 751.6 C946.4 752.7 948.6 757.1 949.6 755.7 C950.5 754.4 951.8 744.9 952.7 741.4 C953.5 737.8 955.1 730.7 955.7 729.0 C956.4 727.4 957.1 727.7 957.8 729.0 C958.5 730.4 960.0 737.1 960.9 739.3 C961.7 741.5 963.1 744.1 964.0 745.5 C964.8 746.8 966.3 749.8 967.0 749.6 C967.7 749.3 968.4 742.9 969.1 743.4 C969.8 744.0 971.2 750.7 972.2 753.7 C973.1 756.7 975.2 763.5 976.3 766.0 C977.4 768.5 979.4 772.7 980.4 772.2 C981.3 771.6 982.6 765.2 983.5 761.9 C984.3 758.6 985.9 749.6 986.5 747.5 C987.2 745.5 987.9 745.4 988.6 746.5 C989.3 747.6 990.9 752.9 991.7 755.7 C992.5 758.6 993.9 764.8 994.8 768.1 C995.6 771.3 997.0 776.6 997.8 780.4 C998.7 784.2 1000.0 793.0 1000.9 796.8 C1001.9 800.7 1003.9 805.3 1005.0 809.1 C1006.1 813.0 1008.0 822.3 1009.1 825.6 C1010.2 828.9 1012.2 832.4 1013.3 833.8 C1014.3 835.2 1016.3 835.9 1017.4 835.9 C1018.5 835.9 1020.5 836.5 1021.5 833.8 C1022.4 831.1 1023.9 818.5 1024.6 815.3 C1025.2 812.2 1025.9 809.4 1026.6 810.2 C1027.3 811.0 1028.7 818.9 1029.7 821.5 C1030.6 824.1 1032.7 828.0 1033.8 829.7 C1034.9 831.3 1036.8 832.7 1037.9 833.8 C1039.0 834.9 1040.9 837.4 1042.0 837.9 C1043.1 838.5 1045.2 838.7 1046.1 837.9 C1047.1 837.1 1048.4 835.0 1049.2 831.7 C1050.0 828.5 1051.6 816.3 1052.3 813.3 C1053.0 810.2 1053.7 808.6 1054.3 809.1 C1055.0 809.7 1056.6 815.4 1057.4 817.4 C1058.2 819.3 1059.5 822.7 1060.5 823.5 C1061.5 824.3 1063.7 824.6 1064.6 823.5 C1065.6 822.4 1067.0 818.9 1067.7 815.3 C1068.4 811.7 1069.2 800.1 1069.7 796.8 C1070.3 793.5 1071.1 789.6 1071.8 790.7 C1072.5 791.8 1074.1 803.7 1074.9 805.0 C1075.7 806.4 1077.1 805.3 1078.0 800.9 C1078.8 796.5 1080.4 777.9 1081.0 772.2 C1081.7 766.4 1082.4 758.1 1083.1 757.8 C1083.8 757.5 1085.4 767.1 1086.2 770.1 C1087.0 773.1 1088.3 777.6 1089.3 780.4 C1090.2 783.1 1092.4 788.5 1093.4 790.7 C1094.3 792.8 1095.6 796.5 1096.5 796.8 C1097.3 797.1 1098.6 793.4 1099.5 792.7 C1100.5 792.0 1102.7 792.8 1103.6 791.7 C1104.6 790.6 1105.9 786.0 1106.7 784.5 C1107.6 783.0 1109.3 780.4 1110.0 780.4 C1110.7 780.3 1111.4 782.8 1112.0 784.2 C1112.5 785.5 1113.3 790.2 1114.0 790.3 C1114.7 790.5 1116.3 785.2 1117.1 785.2 C1117.9 785.2 1119.4 791.0 1120.2 790.3 C1121.0 789.6 1122.4 780.2 1123.3 780.1 C1124.1 779.9 1125.5 788.3 1126.3 789.3 C1127.2 790.3 1128.7 788.6 1129.4 787.2 C1130.1 785.9 1130.8 781.8 1131.5 779.0 C1132.2 776.3 1133.7 770.5 1134.6 766.7 C1135.4 762.9 1136.8 752.7 1137.6 750.3 C1138.5 747.8 1139.9 749.3 1140.7 748.2 C1141.5 747.1 1143.3 744.0 1143.8 742.1 C1144.3 740.1 1144.1 735.9 1144.6 733.9 C1145.1 731.8 1146.5 728.2 1147.3 726.8 C1148.0 725.3 1149.2 723.9 1149.9 723.2 C1150.6 722.5 1151.9 721.0 1152.6 721.4 C1153.3 721.9 1154.5 725.3 1155.2 726.8 C1155.9 728.2 1157.2 732.3 1157.9 732.1 C1158.6 731.9 1159.8 726.2 1160.6 725.0 C1161.3 723.8 1162.5 722.3 1163.2 723.2 C1163.9 724.2 1165.2 727.8 1165.9 732.1 C1166.6 736.3 1167.8 749.7 1168.5 755.2 C1169.3 760.6 1170.5 772.4 1171.2 772.9 C1171.9 773.4 1173.2 761.3 1173.9 758.7 C1174.6 756.1 1175.8 753.9 1176.5 753.4 C1177.2 752.9 1178.5 755.2 1179.2 755.2 C1179.9 755.2 1181.1 753.4 1181.8 753.4 C1182.6 753.4 1183.8 754.7 1184.5 755.2 C1185.2 755.6 1186.5 756.2 1187.2 756.9 C1187.9 757.6 1189.1 759.1 1189.8 760.5 C1190.5 761.9 1191.8 768.3 1192.5 767.6 C1193.2 766.9 1194.4 759.6 1195.2 755.2 C1195.9 750.7 1197.1 738.6 1197.8 733.9 C1198.5 729.1 1199.8 721.8 1200.5 719.7 C1201.2 717.5 1202.5 720.5 1203.1 717.9 C1203.7 715.3 1204.4 704.2 1204.9 700.2 C1205.5 696.1 1206.6 688.9 1207.2 687.7 C1207.8 686.6 1208.7 688.9 1209.3 691.3 C1210.0 693.7 1211.3 700.7 1212.0 705.5 C1212.7 710.2 1214.0 721.1 1214.7 726.8 C1215.4 732.4 1216.6 742.4 1217.3 748.1 C1218.0 753.7 1219.3 764.6 1220.0 769.3 C1220.7 774.1 1221.9 781.2 1222.6 783.5 C1223.4 785.9 1224.6 787.8 1225.3 787.1 C1226.0 786.4 1227.3 779.2 1228.0 778.2 C1228.7 777.3 1229.9 777.9 1230.6 780.0 C1231.3 782.1 1232.6 790.4 1233.3 794.2 C1234.0 798.0 1235.2 805.1 1236.0 808.4 C1236.7 811.7 1237.9 816.7 1238.6 819.0 C1239.3 821.4 1240.6 824.7 1241.3 826.1 C1242.0 827.5 1243.3 831.6 1243.9 829.7 C1244.5 827.8 1245.2 817.1 1245.7 811.9 C1246.2 806.7 1246.9 794.2 1247.5 790.6 C1248.1 787.1 1249.4 785.5 1250.1 785.3 C1250.9 785.1 1252.1 787.2 1252.8 788.9 C1253.5 790.5 1254.8 795.4 1255.5 797.7 C1256.2 800.1 1257.4 804.7 1258.1 806.6 C1258.8 808.5 1260.1 811.9 1260.8 811.9 C1261.5 811.9 1262.7 806.8 1263.5 806.6 C1264.2 806.4 1265.3 809.2 1266.1 810.1 C1266.9 811.1 1268.7 812.3 1269.7 813.7 C1270.6 815.1 1272.3 818.9 1273.2 820.8 C1274.2 822.7 1275.9 826.9 1276.8 827.9 C1277.6 828.8 1279.1 827.9 1279.4 827.9" fill="none" stroke="#7fc97f" stroke-width="4.3" stroke-linejoin="round" stroke-linecap="round"/>
<path d="M170.5 81.5 H608.3 V395.4 H170.5 Z" fill="none" stroke="#808080" stroke-width="2.5" stroke-dasharray="16.4 16.8"/>
<path d="M132 16.1 V424.8 M130.5 423.3 H1379.8 M114.8 17.6 H132 M114.8 118.9 H132 M114.8 220.2 H132 M114.8 321.6 H132 M114.8 422.9 H132 M123.5 68.3 H132 M123.5 169.6 H132 M123.5 270.9 H132 M123.5 372.2 H132 M132.0 423.3 V440.2 M250.6 423.3 V440.2 M369.3 423.3 V440.2 M487.9 423.3 V440.2 M606.5 423.3 V440.2 M725.1 423.3 V440.2 M843.8 423.3 V440.2 M962.4 423.3 V440.2 M1081.0 423.3 V440.2 M1199.7 423.3 V440.2 M1318.3 423.3 V440.2 M191.3 423.3 V431.5 M309.9 423.3 V431.5 M428.6 423.3 V431.5 M547.2 423.3 V431.5 M665.8 423.3 V431.5 M784.5 423.3 V431.5 M903.1 423.3 V431.5 M1021.7 423.3 V431.5 M1140.3 423.3 V431.5 M1259.0 423.3 V431.5 M1377.6 423.3 V431.5" stroke="#000" stroke-width="3" fill="none"/>
<path d="M131 605.8 H1377.2 V1011.8 M131 604.3 V1013.3 M129.5 1011.8 H1378.7 M114.3 663.5 H131 M114.3 779.8 H131 M114.3 896.1 H131 M114.3 1012.4 H131 M122.5 605.9 H131 M122.5 721.6 H131 M122.5 838.0 H131 M122.5 954.2 H131 M131.0 1011.8 V1028.4 M149.8 1011.8 V1020 M168.6 1011.8 V1020 M187.4 1011.8 V1020 M206.2 1011.8 V1020 M225.0 1011.8 V1020 M243.8 1011.8 V1020 M262.6 1011.8 V1020 M281.4 1011.8 V1020 M300.2 1011.8 V1020 M319.0 1011.8 V1020 M337.8 1011.8 V1020 M356.6 1011.8 V1028.4 M375.4 1011.8 V1020 M394.2 1011.8 V1020 M412.9 1011.8 V1020 M431.7 1011.8 V1020 M450.5 1011.8 V1020 M469.3 1011.8 V1020 M488.1 1011.8 V1020 M506.9 1011.8 V1020 M525.7 1011.8 V1020 M544.5 1011.8 V1020 M563.3 1011.8 V1020 M582.1 1011.8 V1028.4 M600.9 1011.8 V1020 M619.7 1011.8 V1020 M638.5 1011.8 V1020 M657.3 1011.8 V1020 M676.1 1011.8 V1020 M694.9 1011.8 V1020 M713.7 1011.8 V1020 M732.5 1011.8 V1020 M751.3 1011.8 V1020 M770.1 1011.8 V1020 M788.9 1011.8 V1020 M807.7 1011.8 V1028.4 M826.5 1011.8 V1020 M845.3 1011.8 V1020 M864.1 1011.8 V1020 M882.9 1011.8 V1020 M901.7 1011.8 V1020 M920.5 1011.8 V1020 M939.3 1011.8 V1020 M958.1 1011.8 V1020 M976.9 1011.8 V1020 M995.6 1011.8 V1020 M1014.4 1011.8 V1020 M1033.2 1011.8 V1028.4 M1052.0 1011.8 V1020 M1070.8 1011.8 V1020 M1089.6 1011.8 V1020 M1108.4 1011.8 V1020 M1127.2 1011.8 V1020 M1146.0 1011.8 V1020 M1164.8 1011.8 V1020 M1183.6 1011.8 V1020 M1202.4 1011.8 V1020 M1221.2 1011.8 V1020 M1240.0 1011.8 V1020 M1258.8 1011.8 V1028.4 M1277.6 1011.8 V1020 M1296.4 1011.8 V1020 M1315.2 1011.8 V1020 M1334.0 1011.8 V1020 M1352.8 1011.8 V1020 M1371.6 1011.8 V1020" stroke="#000" stroke-width="3" fill="none"/>
<path d="M170.4 396.5 L130.6 603.5 M609.3 395.6 L1377 603.8" stroke="#b2b2b2" stroke-width="2.6" fill="none"/>
<path d="M328.4 788 H468" stroke="#ff0000" stroke-width="3" stroke-dasharray="23 20.7" fill="none"/>
<path d="M326.7 938 H466" stroke="#ff0000" stroke-width="3" stroke-dasharray="23 20.7" fill="none"/>
<path d="M428.4 812 V914" stroke="#ff0000" stroke-width="3" fill="none"/>
<path d="M428.4 788.5 L435.4 819 H421.4 Z M428.4 937.5 L435.4 907 H421.4 Z" fill="#ff0000"/>
<text x="1.2" y="33.2" font-size="40.0" text-anchor="start" font-weight="bold" fill="#000" font-family="Liberation Sans, Arial, sans-serif" >(a)</text>
<text x="4.5" y="633.2" font-size="40.5" text-anchor="start" font-weight="bold" fill="#000" font-family="Liberation Sans, Arial, sans-serif" >(b)</text>
<text x="104.3" y="28.6" font-size="37.0" text-anchor="end" font-weight="normal" fill="#000" font-family="Liberation Sans, Arial, sans-serif" >25</text>
<text x="104.3" y="129.9" font-size="37.0" text-anchor="end" font-weight="normal" fill="#000" font-family="Liberation Sans, Arial, sans-serif" >20</text>
<text x="104.3" y="231.2" font-size="37.0" text-anchor="end" font-weight="normal" fill="#000" font-family="Liberation Sans, Arial, sans-serif" >15</text>
<text x="104.3" y="332.6" font-size="37.0" text-anchor="end" font-weight="normal" fill="#000" font-family="Liberation Sans, Arial, sans-serif" >10</text>
<text x="104.3" y="433.9" font-size="37.0" text-anchor="end" font-weight="normal" fill="#000" font-family="Liberation Sans, Arial, sans-serif" >5</text>
<text x="103.6" y="675.0" font-size="37.0" text-anchor="end" font-weight="normal" fill="#000" font-family="Liberation Sans, Arial, sans-serif" >20</text>
<text x="103.6" y="791.3" font-size="37.0" text-anchor="end" font-weight="normal" fill="#000" font-family="Liberation Sans, Arial, sans-serif" >15</text>
<text x="103.6" y="907.6" font-size="37.0" text-anchor="end" font-weight="normal" fill="#000" font-family="Liberation Sans, Arial, sans-serif" >10</text>
<text x="103.6" y="1023.9" font-size="37.0" text-anchor="end" font-weight="normal" fill="#000" font-family="Liberation Sans, Arial, sans-serif" >5</text>
<text x="197.3" y="483.3" font-size="37.0" text-anchor="middle" font-weight="normal" fill="#000" font-family="Liberation Sans, Arial, sans-serif" >2000</text>
<text x="315.9" y="483.3" font-size="37.0" text-anchor="middle" font-weight="normal" fill="#000" font-family="Liberation Sans, Arial, sans-serif" >2002</text>
<text x="434.6" y="483.3" font-size="37.0" text-anchor="middle" font-weight="normal" fill="#000" font-family="Liberation Sans, Arial, sans-serif" >2004</text>
<text x="553.2" y="483.3" font-size="37.0" text-anchor="middle" font-weight="normal" fill="#000" font-family="Liberation Sans, Arial, sans-serif" >2006</text>
<text x="671.8" y="483.3" font-size="37.0" text-anchor="middle" font-weight="normal" fill="#000" font-family="Liberation Sans, Arial, sans-serif" >2008</text>
<text x="790.5" y="483.3" font-size="37.0" text-anchor="middle" font-weight="normal" fill="#000" font-family="Liberation Sans, Arial, sans-serif" >2010</text>
<text x="909.1" y="483.3" font-size="37.0" text-anchor="middle" font-weight="normal" fill="#000" font-family="Liberation Sans, Arial, sans-serif" >2012</text>
<text x="1027.7" y="483.3" font-size="37.0" text-anchor="middle" font-weight="normal" fill="#000" font-family="Liberation Sans, Arial, sans-serif" >2014</text>
<text x="1146.3" y="483.3" font-size="37.0" text-anchor="middle" font-weight="normal" fill="#000" font-family="Liberation Sans, Arial, sans-serif" >2016</text>
<text x="1265.0" y="483.3" font-size="37.0" text-anchor="middle" font-weight="normal" fill="#000" font-family="Liberation Sans, Arial, sans-serif" >2018</text>
<text x="1383.6" y="483.3" font-size="37.0" text-anchor="middle" font-weight="normal" fill="#000" font-family="Liberation Sans, Arial, sans-serif" >2020</text>
<text x="128.7" y="1067.6" font-size="36.3" text-anchor="middle" font-weight="normal" fill="#000" font-family="Liberation Sans, Arial, sans-serif" >2000/12/1</text>
<text x="354.3" y="1067.6" font-size="36.3" text-anchor="middle" font-weight="normal" fill="#000" font-family="Liberation Sans, Arial, sans-serif" >2001/12/1</text>
<text x="579.8" y="1067.6" font-size="36.3" text-anchor="middle" font-weight="normal" fill="#000" font-family="Liberation Sans, Arial, sans-serif" >2002/12/1</text>
<text x="805.4" y="1067.6" font-size="36.3" text-anchor="middle" font-weight="normal" fill="#000" font-family="Liberation Sans, Arial, sans-serif" >2003/12/1</text>
<text x="1030.9" y="1067.6" font-size="36.3" text-anchor="middle" font-weight="normal" fill="#000" font-family="Liberation Sans, Arial, sans-serif" >2004/12/1</text>
<text x="1256.5" y="1067.6" font-size="36.3" text-anchor="middle" font-weight="normal" fill="#000" font-family="Liberation Sans, Arial, sans-serif" >2005/12/1</text>
<text transform="translate(45 220) rotate(-90)" font-size="45" text-anchor="middle" fill="#000" font-family="Liberation Sans, Arial, sans-serif">Elevation(m)</text>
<text transform="translate(45 808.5) rotate(-90)" font-size="45" text-anchor="middle" fill="#000" font-family="Liberation Sans, Arial, sans-serif">Elevation(m)</text>
<text x="438.2" y="884.0" font-size="32.6" text-anchor="start" font-weight="normal" fill="#000" font-family="Liberation Sans, Arial, sans-serif" >7.05 m</text>
<path d="M369.6 31 H440.4" stroke="#bbb1d6" stroke-width="3.4" fill="none"/>
<text x="447.0" y="41.7" font-size="31.2" text-anchor="start" font-weight="normal" fill="#000" font-family="Liberation Sans, Arial, sans-serif" >Wucheng</text>
<path d="M584.4 31 H654.5" stroke="#f18f9c" stroke-width="3.4" fill="none"/>
<text x="661.0" y="41.7" font-size="31.2" text-anchor="start" font-weight="normal" fill="#000" font-family="Liberation Sans, Arial, sans-serif" >Xingzi</text>
<path d="M751.0 31 H821.0" stroke="#426dc6" stroke-width="3.4" fill="none"/>
<text x="827.6" y="41.7" font-size="31.2" text-anchor="start" font-weight="normal" fill="#000" font-family="Liberation Sans, Arial, sans-serif" >Duchang</text>
<path d="M958.4 31 H1027.0" stroke="#fdbf7e" stroke-width="3.4" fill="none"/>
<text x="1035.5" y="41.7" font-size="31.2" text-anchor="start" font-weight="normal" fill="#000" font-family="Liberation Sans, Arial, sans-serif" >Tangyin</text>
<path d="M1150.7 31 H1219.6" stroke="#7fc97f" stroke-width="3.4" fill="none"/>
<text x="1226.5" y="41.7" font-size="31.2" text-anchor="start" font-weight="normal" fill="#000" font-family="Liberation Sans, Arial, sans-serif" >Kangshan</text>
<path d="M391.7 632.8 H460.3" stroke="#bbb1d6" stroke-width="3.4" fill="none"/>
<text x="467.8" y="643.3" font-size="29.8" text-anchor="start" font-weight="normal" fill="#000" font-family="Liberation Sans, Arial, sans-serif" >Wucheng</text>
<path d="M598.2 632.8 H668.3" stroke="#f18f9c" stroke-width="3.4" fill="none"/>
<text x="673.9" y="643.3" font-size="29.8" text-anchor="start" font-weight="normal" fill="#000" font-family="Liberation Sans, Arial, sans-serif" >Xingzi</text>
<path d="M761.4 632.8 H830.7" stroke="#426dc6" stroke-width="3.4" fill="none"/>
<text x="835.5" y="643.3" font-size="29.8" text-anchor="start" font-weight="normal" fill="#000" font-family="Liberation Sans, Arial, sans-serif" >Duchang</text>
<path d="M961.0 632.8 H1029.6" stroke="#fdbf7e" stroke-width="3.4" fill="none"/>
<text x="1037.2" y="643.3" font-size="29.8" text-anchor="start" font-weight="normal" fill="#000" font-family="Liberation Sans, Arial, sans-serif" >Tangyin</text>
<path d="M1148.2 632.8 H1215.8" stroke="#7fc97f" stroke-width="3.4" fill="none"/>
<text x="1221.1" y="643.3" font-size="29.8" text-anchor="start" font-weight="normal" fill="#000" font-family="Liberation Sans, Arial, sans-serif" >Kangshan</text>
</svg>
</body></html>
